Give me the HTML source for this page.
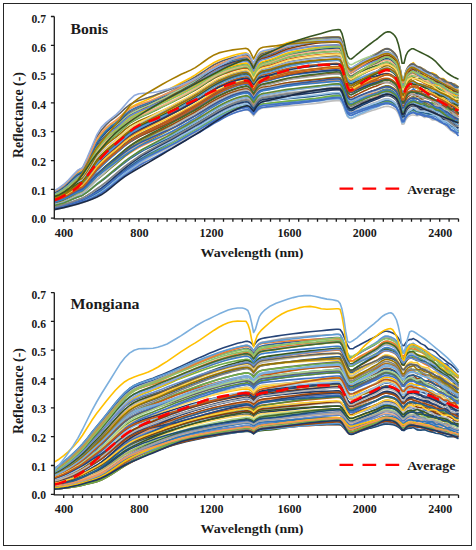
<!DOCTYPE html>
<html><head><meta charset="utf-8"><style>
html,body{margin:0;padding:0;background:#fff;}
body{width:476px;height:550px;overflow:hidden;position:relative;}
.frame{position:absolute;left:3px;top:3px;width:467px;height:541px;border:1px solid #262626;}
svg{position:absolute;left:0;top:0;}
.tk{font-family:"Liberation Serif",serif;font-weight:bold;font-size:11.5px;fill:#1a1a1a;}
.lb{font-family:"Liberation Serif",serif;font-weight:bold;font-size:13.5px;fill:#1a1a1a;}
.ti{font-family:"Liberation Serif",serif;font-weight:bold;font-size:14.5px;fill:#1a1a1a;}
.ax{fill:none;stroke:#1a1a1a;stroke-width:1.3;}
g.c path{fill:none;stroke-width:16;stroke-linejoin:round;}
g.c path.avg{stroke:#FF0000;stroke-width:25;stroke-dasharray:125,83;}
</style></head><body>
<div class="frame"></div>
<svg width="476" height="550" viewBox="0 0 476 550">
<defs><clipPath id="c1"><rect x="54" y="0" width="410" height="219"/></clipPath>
<clipPath id="c2"><rect x="54" y="276" width="410" height="219"/></clipPath></defs>
<g clip-path="url(#c1)"><g class="c" transform="scale(0.1)">
<path d="M543 2005l47-16 47-21 47-26 47-29 47-28 47-20 47-49 47-60 47-60 47-45 47-41 47-40 47-35 47-39 47-38 47-35 47-29 47-26 47-24 47-21 47-22 47-22 47-21 47-22 47-22 47-24 47-26 47-26 47-27 47-27 47-29 47-30 47-31 47-29 47-27 47-23 47-22 47-19 47-16 47-12 19-4 19-3 18 4 19 16 19 30 19 33 19-34 18-30 19-21 19-13 19-7 19-3 56-12 56-16 57-15 56-15 57-11 56-9 56-9 57-7 56-5 57-5 56-6 56-4 38-1 19 1 19 3 18 29 19 60 19 73 19 57 19 21 18 4 19-9 19-11 19-10 19-10 18-9 19-10 19-8 19-9 19-8 18-8 19-8 19-7 19-7 19-7 18-9 19-8 19-8 19-5 19-1 18 2 19 8 19 11 19 15 19 21 18 41 19 60 19 84 19-3 19-60 18-29 19-16 19-11 19 4 37 5 38 21 38 12 37 12 38 34 37-1 38 29 38 18 37 28 38 24 37 21 38 12" stroke="#4472C4"/>
<path d="M543 1932l47-24 47-32 47-41 47-47 47-44 47-27 47-81 47-99 47-100 47-65 47-52 47-43 47-34 47-40 47-44 47-37 47-25 47-20 47-18 47-17 47-20 47-21 47-20 47-21 47-21 47-22 47-23 47-24 47-24 47-26 47-30 47-31 47-31 47-28 47-24 47-18 47-17 47-16 47-12 47-10 19-3 19-2 18 6 19 18 19 33 19 36 19-35 18-30 19-22 19-12 19-7 19-3 56-15 56-21 57-23 56-19 57-13 56-9 56-9 57-7 56-5 57-4 56-2 56-2 38 0 19 1 19 4 18 30 19 63 19 77 19 61 19 22 18 5 19-9 19-12 19-10 19-10 18-10 19-10 19-9 19-8 19-9 18-8 19-8 19-7 19-6 19-7 18-9 19-8 19-7 19-5 19-1 18 3 19 8 19 13 19 16 19 23 18 43 19 63 19 90 19-3 19-62 18-30 19-16 19-9 19 6 37 34 38-9 38 21 37 24 38 9 37 23 38 19 38 39 37 2 38 13 37 10 38 16" stroke="#ED7D31"/>
<path d="M543 2068l47-10 47-12 47-15 47-17 47-17 47-16 47-26 47-31 47-33 47-31 47-36 47-39 47-39 47-40 47-37 47-35 47-33 47-32 47-28 47-28 47-26 47-26 47-25 47-25 47-27 47-27 47-28 47-29 47-28 47-28 47-28 47-30 47-30 47-30 47-28 47-26 47-23 47-21 47-18 47-14 19-4 19-4 18 3 19 13 19 25 19 28 19-31 18-26 19-18 19-11 19-6 19-2 56-8 56-9 57-8 56-9 57-6 56-6 56-6 57-6 56-6 57-7 56-8 56-6 38-2 19 0 19 3 18 24 19 51 19 62 19 48 19 18 18 3 19-8 19-10 19-8 19-9 18-9 19-8 19-8 19-8 19-7 18-8 19-7 19-7 19-6 19-7 18-8 19-8 19-7 19-5 19-2 18 2 19 6 19 9 19 13 19 18 18 35 19 52 19 73 19-3 19-52 18-26 19-15 19-9 19-8 37 6 38 17 38 12 37 5 38 30 37 4 38 12 38 38 37 7 38 36 37 38 38 14" stroke="#A5A5A5"/>
<path d="M543 1926l47-25 47-33 47-42 47-48 47-46 47-27 47-84 47-102 47-105 47-68 47-55 47-45 47-35 47-42 47-46 47-40 47-28 47-22 47-20 47-20 47-23 47-22 47-24 47-23 47-24 47-24 47-25 47-25 47-26 47-28 47-32 47-33 47-30 47-29 47-22 47-18 47-16 47-14 47-12 47-9 19-3 19-2 18 8 19 22 19 42 19 46 19-43 18-38 19-26 19-15 19-8 19-3 56-17 56-23 57-25 56-21 57-14 56-11 56-9 57-7 56-5 57-5 56-4 56-2 38-1 19 1 19 3 18 38 19 78 19 95 19 74 19 27 18 5 19-12 19-15 19-13 19-13 18-12 19-13 19-11 19-12 19-11 18-10 19-10 19-10 19-9 19-10 18-11 19-12 19-10 19-6 19-3 18 3 19 10 19 14 19 18 19 26 18 53 19 76 19 109 19-6 19-79 18-39 19-21 19-13 19-12 37 42 38 7 38 22 37 32 38-2 37 18 38 40 38-1 37 31 38 20 37 5 38 27" stroke="#FFC000"/>
<path d="M543 2085l47-8 47-10 47-13 47-14 47-15 47-15 47-21 47-25 47-28 47-30 47-36 47-40 47-41 47-41 47-38 47-37 47-34 47-35 47-30 47-28 47-26 47-25 47-25 47-25 47-26 47-28 47-26 47-26 47-25 47-26 47-25 47-27 47-27 47-27 47-26 47-24 47-22 47-19 47-16 47-11 19-4 19-3 18 4 19 12 19 24 19 26 19-27 18-24 19-17 19-10 19-5 19-2 56-5 56-5 57-5 56-5 57-4 56-6 56-5 57-6 56-6 57-8 56-9 56-7 38-3 19 0 19 2 18 23 19 46 19 58 19 45 19 16 18 3 19-8 19-9 19-9 19-8 18-8 19-8 19-8 19-7 19-7 18-7 19-7 19-6 19-6 19-6 18-8 19-7 19-7 19-4 19-2 18 1 19 6 19 9 19 12 19 17 18 33 19 48 19 68 19-3 19-48 18-25 19-14 19-10 19 6 37-11 38 16 38 12 37 7 38-4 37 22 38 38 38 8 37 25 38 26 37 30 38 37" stroke="#5B9BD5"/>
<path d="M543 2079l47-8 47-11 47-13 47-14 47-15 47-15 47-22 47-25 47-28 47-29 47-35 47-39 47-39 47-40 47-37 47-34 47-34 47-33 47-28 47-26 47-24 47-24 47-23 47-23 47-25 47-25 47-27 47-28 47-26 47-27 47-26 47-28 47-28 47-28 47-27 47-25 47-23 47-20 47-17 47-13 19-4 19-3 18 3 19 10 19 21 19 24 19-26 18-22 19-16 19-10 19-5 19-2 56-7 56-6 57-7 56-6 57-5 56-6 56-5 57-6 56-6 57-8 56-9 56-7 38-3 19 0 19 2 18 20 19 43 19 53 19 41 19 15 18 3 19-7 19-9 19-7 19-8 18-7 19-7 19-7 19-7 19-7 18-6 19-6 19-6 19-5 19-6 18-7 19-7 19-6 19-4 19-2 18 2 19 5 19 9 19 11 19 16 18 31 19 45 19 63 19-2 19-44 18-21 19-12 19-9 19-1 37 15 38-7 38 26 37-3 38 10 37 9 38 22 38 27 37 25 38 27 37 20 38 42" stroke="#70AD47"/>
<path d="M543 1933l47-24 47-32 47-41 47-46 47-44 47-27 47-81 47-98 47-99 47-65 47-52 47-42 47-34 47-40 47-44 47-37 47-25 47-21 47-19 47-18 47-21 47-21 47-21 47-21 47-22 47-23 47-23 47-24 47-25 47-27 47-30 47-31 47-32 47-28 47-24 47-19 47-18 47-16 47-14 47-11 19-4 19-3 18 6 19 20 19 37 19 40 19-40 18-35 19-25 19-14 19-9 19-4 56-18 56-24 57-26 56-23 57-15 56-13 56-12 57-10 56-8 57-6 56-4 56-4 38-2 19 1 19 3 18 34 19 72 19 90 19 70 19 25 18 6 19-10 19-13 19-11 19-12 18-10 19-11 19-10 19-9 19-10 18-9 19-8 19-8 19-7 19-8 18-10 19-9 19-8 19-5 19-2 18 4 19 10 19 14 19 19 19 25 18 49 19 72 19 101 19-4 19-71 18-35 19-18 19-11 19-4 37 23 38 20 38 38 37 25 38 5 37 17 38 22 38 13 37 24 38 27 37 17 38 12" stroke="#264478"/>
<path d="M543 2012l47-16 47-20 47-26 47-30 47-29 47-20 47-50 47-60 47-62 47-47 47-43 47-41 47-35 47-38 47-38 47-34 47-28 47-26 47-23 47-21 47-21 47-21 47-21 47-21 47-22 47-23 47-24 47-25 47-25 47-25 47-27 47-29 47-28 47-27 47-25 47-21 47-22 47-18 47-16 47-12 19-3 19-3 18 4 19 15 19 30 19 33 19-33 18-29 19-21 19-12 19-7 19-3 56-11 56-13 57-14 56-13 57-9 56-8 56-8 57-7 56-7 57-6 56-7 56-6 38-2 19 1 19 3 18 28 19 59 19 72 19 56 19 20 18 4 19-9 19-11 19-10 19-9 18-10 19-9 19-9 19-8 19-9 18-8 19-7 19-8 19-6 19-8 18-8 19-9 19-7 19-5 19-2 18 2 19 8 19 11 19 15 19 20 18 40 19 59 19 83 19-4 19-58 18-30 19-16 19-10 19-1 37 20 38 11 38 7 37 11 38 13 37 25 38 28 38 1 37 31 38 23 37 25 38 35" stroke="#9E480E"/>
<path d="M543 1978l47-20 47-25 47-31 47-36 47-34 47-23 47-61 47-74 47-74 47-51 47-44 47-39 47-34 47-37 47-39 47-35 47-26 47-23 47-21 47-19 47-21 47-20 47-20 47-21 47-21 47-22 47-24 47-26 47-25 47-26 47-28 47-30 47-29 47-27 47-24 47-20 47-18 47-16 47-14 47-9 19-3 19-2 18 6 19 17 19 33 19 37 19-35 18-31 19-21 19-12 19-7 19-2 56-11 56-13 57-15 56-12 57-8 56-7 56-5 57-5 56-5 57-5 56-8 56-7 38-3 19 0 19 3 18 29 19 61 19 76 19 59 19 21 18 3 19-10 19-12 19-11 19-11 18-11 19-11 19-10 19-9 19-10 18-9 19-9 19-8 19-8 19-9 18-10 19-9 19-9 19-6 19-3 18 2 19 7 19 12 19 15 19 21 18 42 19 63 19 88 19-5 19-64 18-32 19-18 19-11 19-8 37 21 38 21 38 1 37 15 38 30 37 10 38 15 38 22 37 17 38 20 37 24 38 28" stroke="#636363"/>
<path d="M543 1947l47-22 47-29 47-38 47-42 47-40 47-25 47-73 47-88 47-89 47-59 47-48 47-41 47-33 47-38 47-41 47-36 47-25 47-22 47-19 47-18 47-20 47-21 47-20 47-21 47-20 47-21 47-23 47-24 47-25 47-25 47-29 47-30 47-30 47-28 47-23 47-20 47-17 47-16 47-13 47-10 19-3 19-2 18 6 19 18 19 35 19 37 19-36 18-32 19-22 19-12 19-7 19-3 56-14 56-18 57-19 56-17 57-13 56-9 56-9 57-8 56-7 57-5 56-4 56-4 38-1 19 1 19 3 18 31 19 65 19 80 19 62 19 22 18 5 19-10 19-12 19-11 19-10 18-11 19-10 19-9 19-9 19-9 18-9 19-8 19-7 19-7 19-8 18-9 19-9 19-8 19-5 19-2 18 3 19 9 19 12 19 16 19 23 18 44 19 65 19 91 19-4 19-65 18-32 19-17 19-11 19 9 37 1 38 23 38 26 37 15 38 13 37 8 38 27 38 13 37 12 38 23 37 19 38 21" stroke="#C55A11"/>
<path d="M543 2083l47-9 47-10 47-13 47-15 47-15 47-16 47-22 47-26 47-28 47-31 47-36 47-40 47-42 47-40 47-39 47-36 47-35 47-35 47-30 47-27 47-26 47-25 47-25 47-26 47-26 47-28 47-26 47-27 47-27 47-26 47-26 47-28 47-29 47-28 47-26 47-25 47-23 47-19 47-17 47-12 19-4 19-3 18 3 19 12 19 23 19 27 19-28 18-24 19-18 19-10 19-5 19-3 56-6 56-7 57-7 56-6 57-6 56-5 56-5 57-5 56-6 57-7 56-8 56-7 38-2 19 1 19 2 18 22 19 47 19 59 19 45 19 16 18 3 19-7 19-10 19-8 19-8 18-8 19-7 19-8 19-7 19-7 18-7 19-6 19-6 19-6 19-6 18-7 19-7 19-6 19-5 19-2 18 2 19 6 19 9 19 13 19 17 18 33 19 48 19 68 19-2 19-48 18-24 19-13 19-9 19-9 37 19 38 9 38 8 37 6 38 18 37 9 38 20 38 22 37 21 38 32 37 28 38 19" stroke="#255E91"/>
<path d="M543 1965l47-21 47-27 47-36 47-40 47-38 47-24 47-69 47-84 47-85 47-58 47-49 47-43 47-36 47-40 47-44 47-38 47-28 47-25 47-22 47-21 47-22 47-23 47-23 47-23 47-23 47-25 47-24 47-24 47-26 47-26 47-29 47-31 47-31 47-29 47-24 47-21 47-18 47-17 47-14 47-10 19-4 19-2 18 5 19 16 19 31 19 35 19-34 18-30 19-21 19-12 19-7 19-3 56-15 56-20 57-21 56-18 57-13 56-10 56-9 57-8 56-6 57-5 56-5 56-3 38-1 19 1 19 3 18 29 19 61 19 74 19 58 19 22 18 4 19-8 19-11 19-10 19-10 18-9 19-9 19-8 19-8 19-8 18-7 19-7 19-7 19-6 19-6 18-8 19-8 19-7 19-4 19-1 18 4 19 8 19 13 19 16 19 22 18 42 19 61 19 86 19-2 19-59 18-29 19-14 19-9 19 16 37 10 38 0 38 25 37 25 38 11 37 13 38 31 38 9 37 26 38 20 37 20 38 12" stroke="#43682B"/>
<path d="M543 2094l47-8 47-9 47-10 47-12 47-13 47-14 47-18 47-19 47-23 47-27 47-34 47-40 47-41 47-40 47-37 47-36 47-35 47-35 47-30 47-28 47-26 47-25 47-24 47-23 47-24 47-26 47-26 47-27 47-26 47-25 47-25 47-27 47-27 47-28 47-26 47-25 47-22 47-20 47-16 47-12 19-4 19-3 18 3 19 11 19 22 19 24 19-26 18-22 19-16 19-9 19-5 19-2 56-5 56-4 57-5 56-5 57-4 56-5 56-5 57-5 56-6 57-8 56-10 56-7 38-3 19 0 19 2 18 21 19 43 19 54 19 41 19 15 18 3 19-7 19-9 19-8 19-7 18-8 19-7 19-7 19-7 19-7 18-6 19-6 19-6 19-6 19-6 18-6 19-7 19-6 19-4 19-2 18 1 19 5 19 8 19 11 19 15 18 31 19 45 19 63 19-2 19-45 18-23 19-13 19-9 19 0 37 8 38-8 38 25 37-7 38 32 37 0 38 22 38 17 37 33 38 35 37 26 38 10" stroke="#BFBFBF"/>
<path d="M543 2039l47-13 47-16 47-20 47-23 47-23 47-18 47-37 47-45 47-46 47-38 47-39 47-40 47-37 47-39 47-38 47-34 47-29 47-28 47-24 47-22 47-22 47-21 47-21 47-21 47-22 47-24 47-25 47-26 47-26 47-25 47-27 47-28 47-28 47-28 47-25 47-23 47-22 47-18 47-16 47-12 19-3 19-4 18 5 19 16 19 32 19 35 19-36 18-30 19-22 19-13 19-7 19-2 56-9 56-10 57-10 56-9 57-8 56-6 56-7 57-6 56-6 57-8 56-7 56-7 38-2 19 0 19 3 18 29 19 62 19 75 19 57 19 20 18 4 19-10 19-12 19-11 19-10 18-11 19-10 19-10 19-10 19-10 18-9 19-9 19-8 19-8 19-9 18-10 19-10 19-9 19-7 19-2 18 1 19 7 19 11 19 14 19 20 18 41 19 61 19 85 19-4 19-64 18-32 19-19 19-12 19-2 37 8 38 9 38 22 37 8 38 7 37 16 38 22 38 3 37 34 38 34 37 22 38 24" stroke="#F1975A"/>
<path d="M543 2070l47-10 47-12 47-15 47-17 47-17 47-16 47-26 47-31 47-33 47-32 47-37 47-40 47-39 47-40 47-38 47-36 47-33 47-33 47-29 47-25 47-25 47-25 47-23 47-24 47-26 47-27 47-28 47-28 47-28 47-27 47-28 47-30 47-29 47-30 47-27 47-26 47-23 47-21 47-18 47-13 19-4 19-4 18 4 19 13 19 28 19 30 19-32 18-28 19-21 19-11 19-7 19-3 56-9 56-10 57-11 56-7 57-4 56-4 56-3 57-4 56-3 57-5 56-6 56-4 38-1 19 1 19 4 18 26 19 54 19 67 19 51 19 19 18 3 19-7 19-10 19-9 19-9 18-8 19-9 19-8 19-7 19-8 18-7 19-7 19-7 19-6 19-6 18-8 19-8 19-7 19-5 19-1 18 2 19 7 19 10 19 14 19 18 18 36 19 53 19 74 19-4 19-55 18-28 19-17 19-11 19-7 37 7 38 20 38 10 37-13 38 28 37 23 38 15 38 12 37 14 38 34 37 18 38 35" stroke="#B7B7B7"/>
<path d="M543 1989l47-18 47-24 47-31 47-34 47-34 47-22 47-59 47-72 47-74 47-53 47-47 47-43 47-38 47-41 47-44 47-38 47-30 47-28 47-24 47-22 47-25 47-23 47-24 47-24 47-25 47-26 47-25 47-25 47-26 47-27 47-30 47-30 47-31 47-28 47-25 47-20 47-19 47-17 47-14 47-11 19-3 19-3 18 6 19 16 19 32 19 36 19-35 18-30 19-22 19-12 19-7 19-3 56-13 56-17 57-18 56-16 57-11 56-9 56-8 57-7 56-6 57-5 56-5 56-4 38-2 19 1 19 3 18 30 19 61 19 76 19 59 19 21 18 5 19-9 19-12 19-10 19-10 18-10 19-9 19-9 19-9 19-8 18-9 19-7 19-7 19-7 19-7 18-9 19-9 19-7 19-5 19-2 18 4 19 8 19 12 19 15 19 22 18 42 19 62 19 88 19-3 19-62 18-30 19-16 19-10 19 3 37 17 38 5 38 26 37 15 38 13 37 22 38 17 38 34 37 2 38 25 37 18 38 21" stroke="#FFCD33"/>
<path d="M543 2084l47-8 47-9 47-12 47-13 47-14 47-14 47-19 47-22 47-24 47-27 47-33 47-38 47-40 47-40 47-37 47-35 47-35 47-34 47-30 47-27 47-26 47-25 47-24 47-24 47-26 47-27 47-27 47-27 47-27 47-26 47-27 47-28 47-28 47-28 47-28 47-25 47-23 47-20 47-16 47-11 19-4 19-3 18 3 19 13 19 24 19 27 19-28 18-25 19-17 19-10 19-5 19-2 56-5 56-5 57-5 56-4 57-4 56-4 56-4 57-4 56-5 57-7 56-8 56-7 38-2 19 1 19 2 18 23 19 46 19 57 19 44 19 16 18 2 19-8 19-10 19-9 19-9 18-9 19-8 19-8 19-8 19-8 18-8 19-7 19-7 19-7 19-7 18-8 19-8 19-7 19-6 19-2 18 1 19 5 19 9 19 11 19 17 18 33 19 48 19 68 19-3 19-50 18-25 19-14 19-10 19-5 37 14 38 3 38 8 37 11 38-2 37 2 38 35 38 20 37 30 38 30 37 10 38 49" stroke="#7CAFDD"/>
<path d="M543 1963l47-21 47-28 47-35 47-40 47-39 47-24 47-70 47-84 47-86 47-58 47-49 47-43 47-36 47-40 47-43 47-38 47-28 47-25 47-21 47-21 47-23 47-22 47-23 47-23 47-23 47-24 47-25 47-25 47-26 47-27 47-29 47-31 47-31 47-28 47-25 47-19 47-19 47-16 47-13 47-11 19-3 19-2 18 7 19 20 19 39 19 42 19-41 18-36 19-25 19-14 19-8 19-3 56-15 56-19 57-21 56-18 57-12 56-9 56-9 57-8 56-7 57-5 56-5 56-4 38-1 19 1 19 3 18 35 19 74 19 90 19 69 19 24 18 5 19-11 19-14 19-13 19-12 18-12 19-12 19-11 19-11 19-10 18-11 19-10 19-9 19-9 19-9 18-11 19-11 19-10 19-7 19-3 18 3 19 9 19 13 19 17 19 24 18 49 19 73 19 101 19-5 19-75 18-37 19-20 19-14 19 2 37 2 38 20 38 31 37 20 38-4 37 33 38 20 38 27 37 18 38 14 37 22 38 32" stroke="#8CC168"/>
<path d="M543 1990l47-18 47-24 47-30 47-35 47-33 47-22 47-58 47-71 47-72 47-52 47-45 47-42 47-37 47-39 47-42 47-37 47-30 47-26 47-24 47-23 47-25 47-24 47-24 47-25 47-25 47-26 47-26 47-26 47-27 47-28 47-30 47-31 47-32 47-29 47-27 47-22 47-20 47-18 47-16 47-11 19-4 19-3 18 5 19 16 19 33 19 35 19-35 18-31 19-22 19-12 19-7 19-3 56-13 56-17 57-18 56-16 57-10 56-9 56-8 57-6 56-6 57-5 56-4 56-3 38-1 19 1 19 3 18 30 19 63 19 78 19 60 19 22 18 4 19-9 19-12 19-10 19-10 18-10 19-9 19-9 19-9 19-9 18-8 19-9 19-7 19-7 19-8 18-9 19-9 19-8 19-6 19-2 18 3 19 8 19 12 19 15 19 22 18 43 19 63 19 88 19-3 19-63 18-32 19-16 19-11 19-3 37 14 38 20 38 13 37 14 38 31 37 14 38 19 38 1 37 30 38 20 37 23 38 27" stroke="#335AA1"/>
<path d="M543 1997l47-18 47-22 47-29 47-32 47-31 47-22 47-55 47-66 47-68 47-49 47-44 47-41 47-36 47-40 47-40 47-37 47-29 47-26 47-24 47-22 47-25 47-24 47-24 47-24 47-25 47-26 47-26 47-26 47-27 47-28 47-30 47-31 47-31 47-30 47-26 47-22 47-21 47-19 47-15 47-12 19-4 19-3 18 4 19 15 19 30 19 33 19-34 18-29 19-21 19-12 19-6 19-3 56-12 56-16 57-16 56-15 57-10 56-7 56-8 57-6 56-6 57-4 56-5 56-4 38-1 19 1 19 3 18 29 19 58 19 72 19 56 19 21 18 4 19-8 19-11 19-10 19-9 18-9 19-9 19-8 19-8 19-8 18-7 19-7 19-7 19-6 19-7 18-8 19-8 19-7 19-5 19-1 18 3 19 7 19 12 19 15 19 21 18 40 19 59 19 83 19-3 19-58 18-28 19-15 19-10 19-13 37 10 38 33 38 12 37 11 38 15 37 28 38 11 38 31 37 36 38 12 37 12 38 19" stroke="#BE5F1B"/>
<path d="M543 1959l47-23 47-30 47-39 47-44 47-43 47-28 47-78 47-95 47-97 47-67 47-56 47-49 47-39 47-46 47-49 47-43 47-32 47-27 47-22 47-22 47-24 47-24 47-24 47-24 47-25 47-25 47-22 47-23 47-23 47-25 47-29 47-30 47-30 47-27 47-23 47-17 47-16 47-14 47-11 47-9 19-2 19-2 18 8 19 20 19 40 19 43 19-42 18-36 19-26 19-15 19-9 19-4 56-20 56-25 57-26 56-24 57-17 56-14 56-13 57-11 56-9 57-7 56-6 56-4 38-3 19 1 19 3 18 35 19 75 19 92 19 70 19 26 18 4 19-11 19-15 19-13 19-13 18-13 19-12 19-12 19-11 19-11 18-10 19-9 19-9 19-9 19-9 18-11 19-10 19-10 19-6 19-2 18 4 19 9 19 14 19 18 19 26 18 51 19 75 19 105 19-5 19-76 18-37 19-20 19-12 19-7 37 27 38 17 38 17 37 26 38 15 37 31 38 12 38 31 37 12 38 20 37-1 38 30" stroke="#848484"/>
<path d="M543 1966l47-21 47-27 47-34 47-39 47-37 47-24 47-67 47-81 47-82 47-55 47-47 47-41 47-34 47-39 47-41 47-36 47-27 47-24 47-20 47-20 47-21 47-21 47-21 47-22 47-22 47-23 47-24 47-25 47-26 47-26 47-30 47-31 47-30 47-28 47-25 47-20 47-19 47-17 47-14 47-10 19-4 19-2 18 8 19 22 19 43 19 47 19-45 18-39 19-28 19-16 19-8 19-3 56-14 56-18 57-19 56-17 57-11 56-9 56-9 57-7 56-6 57-6 56-6 56-5 38-2 19 1 19 3 18 39 19 81 19 98 19 75 19 26 18 5 19-13 19-16 19-14 19-14 18-14 19-14 19-13 19-13 19-12 18-13 19-11 19-12 19-10 19-12 18-13 19-14 19-12 19-9 19-4 18 2 19 9 19 13 19 17 19 26 18 53 19 78 19 110 19-7 19-84 18-43 19-25 19-16 19-12 37 20 38 15 38 10 37 26 38 20 37 15 38 27 38 14 37 39 38-6 37 39 38 14" stroke="#997300"/>
<path d="M543 2019l47-16 47-20 47-25 47-29 47-28 47-21 47-49 47-58 47-61 47-46 47-45 47-42 47-39 47-41 47-42 47-38 47-31 47-30 47-26 47-24 47-25 47-24 47-24 47-24 47-26 47-26 47-25 47-26 47-26 47-26 47-29 47-30 47-30 47-28 47-26 47-21 47-20 47-17 47-14 47-11 19-3 19-3 18 4 19 14 19 25 19 29 19-29 18-25 19-17 19-10 19-6 19-3 56-10 56-14 57-13 56-13 57-8 56-7 56-7 57-6 56-5 57-5 56-5 56-4 38-2 19 0 19 2 18 24 19 49 19 61 19 48 19 17 18 4 19-8 19-9 19-9 19-8 18-8 19-7 19-8 19-7 19-7 18-6 19-6 19-6 19-5 19-6 18-7 19-6 19-6 19-4 19-1 18 3 19 7 19 10 19 14 19 19 18 35 19 52 19 73 19-2 19-49 18-24 19-12 19-8 19-17 37 33 38 13 38 9 37 14 38 26 37 21 38 10 38 18 37 25 38 24 37 23 38 20" stroke="#3A7BC8"/>
<path d="M543 2043l47-13 47-16 47-20 47-23 47-23 47-18 47-38 47-45 47-47 47-39 47-40 47-41 47-39 47-40 47-40 47-36 47-32 47-31 47-27 47-25 47-24 47-25 47-23 47-24 47-25 47-26 47-26 47-26 47-27 47-26 47-27 47-29 47-29 47-28 47-26 47-23 47-22 47-19 47-15 47-12 19-3 19-3 18 4 19 15 19 29 19 32 19-32 18-29 19-20 19-12 19-6 19-3 56-9 56-11 57-11 56-10 57-8 56-6 56-6 57-6 56-6 57-6 56-6 56-6 38-1 19 1 19 2 18 28 19 56 19 70 19 53 19 20 18 4 19-9 19-11 19-10 19-9 18-9 19-9 19-9 19-9 19-8 18-8 19-7 19-7 19-7 19-7 18-9 19-8 19-8 19-5 19-2 18 2 19 7 19 11 19 14 19 20 18 38 19 57 19 80 19-4 19-57 18-29 19-16 19-11 19-6 37 20 38 3 38 7 37 13 38 25 37 18 38 11 38 29 37-3 38 48 37 26 38 16" stroke="#5A8A39"/>
<path d="M543 1977l47-20 47-27 47-32 47-37 47-36 47-23 47-64 47-77 47-78 47-55 47-47 47-41 47-36 47-39 47-42 47-37 47-29 47-24 47-22 47-21 47-23 47-22 47-22 47-22 47-23 47-24 47-25 47-26 47-26 47-26 47-30 47-31 47-31 47-29 47-25 47-21 47-19 47-18 47-14 47-11 19-4 19-2 18 5 19 16 19 31 19 34 19-34 18-30 19-21 19-12 19-7 19-4 56-14 56-19 57-19 56-17 57-12 56-8 56-8 57-7 56-6 57-5 56-4 56-3 38-1 19 1 19 3 18 30 19 60 19 75 19 58 19 22 18 4 19-8 19-12 19-10 19-9 18-9 19-9 19-9 19-8 19-8 18-8 19-7 19-7 19-6 19-7 18-8 19-8 19-7 19-4 19-1 18 3 19 8 19 13 19 15 19 22 18 42 19 61 19 86 19-3 19-60 18-29 19-15 19-10 19 2 37 23 38 1 38 18 37 19 38 30 37 7 38 18 38 28 37 27 38-8 37 30 38 29" stroke="#8FAADC"/>
<path d="M543 1954l47-22 47-28 47-37 47-42 47-39 47-25 47-72 47-88 47-88 47-59 47-49 47-42 47-34 47-40 47-42 47-37 47-27 47-23 47-21 47-20 47-21 47-22 47-22 47-22 47-23 47-23 47-24 47-25 47-26 47-26 47-30 47-31 47-31 47-28 47-25 47-20 47-18 47-17 47-13 47-11 19-3 19-3 18 6 19 17 19 32 19 35 19-35 18-30 19-22 19-12 19-7 19-4 56-16 56-20 57-22 56-19 57-13 56-11 56-9 57-9 56-7 57-5 56-4 56-4 38-1 19 1 19 2 18 30 19 63 19 77 19 60 19 22 18 4 19-9 19-12 19-10 19-10 18-10 19-9 19-9 19-9 19-8 18-8 19-8 19-7 19-6 19-7 18-9 19-8 19-7 19-5 19-1 18 3 19 9 19 12 19 16 19 23 18 43 19 63 19 89 19-2 19-62 18-30 19-16 19-9 19-6 37 23 38 13 38 32 37 8 38 26 37 14 38 7 38 30 37 35 38 13 37 18 38 3" stroke="#F4B183"/>
<path d="M543 2001l47-18 47-23 47-28 47-33 47-32 47-23 47-56 47-68 47-69 47-52 47-46 47-43 47-38 47-42 47-41 47-36 47-29 47-26 47-23 47-22 47-23 47-22 47-23 47-22 47-24 47-24 47-24 47-26 47-25 47-26 47-28 47-30 47-30 47-28 47-25 47-21 47-20 47-17 47-15 47-11 19-4 19-3 18 4 19 11 19 22 19 26 19-26 18-23 19-16 19-10 19-6 19-3 56-12 56-16 57-17 56-15 57-11 56-8 56-9 57-7 56-6 57-6 56-6 56-5 38-1 19 0 19 2 18 22 19 45 19 57 19 44 19 17 18 4 19-6 19-8 19-7 19-7 18-6 19-6 19-6 19-5 19-5 18-5 19-4 19-5 19-3 19-4 18-5 19-5 19-4 19-2 19 0 18 4 19 8 19 10 19 14 19 19 18 33 19 49 19 67 19 1 19-43 18-20 19-9 19-5 19 2 37 12 38 30 38 5 37 4 38 22 37 27 38 8 38 27 37 16 38 38 37 17 38 18" stroke="#1F3864"/>
<path d="M543 1985l47-19 47-26 47-32 47-36 47-35 47-24 47-63 47-77 47-78 47-55 47-49 47-44 47-38 47-42 47-44 47-39 47-30 47-27 47-25 47-23 47-24 47-25 47-24 47-25 47-25 47-26 47-24 47-25 47-26 47-26 47-30 47-31 47-30 47-29 47-25 47-20 47-19 47-17 47-14 47-10 19-4 19-2 18 5 19 16 19 30 19 34 19-34 18-29 19-21 19-12 19-7 19-4 56-14 56-20 57-20 56-18 57-12 56-11 56-9 57-8 56-7 57-6 56-5 56-4 38-1 19 0 19 3 18 29 19 60 19 74 19 57 19 21 18 4 19-8 19-12 19-10 19-9 18-10 19-9 19-9 19-8 19-8 18-7 19-8 19-6 19-7 19-6 18-8 19-8 19-7 19-5 19-1 18 3 19 9 19 12 19 15 19 22 18 42 19 61 19 86 19-3 19-59 18-29 19-15 19-9 19 9 37 0 38 18 38 21 37 15 38 11 37 31 38 28 38 16 37 9 38 23 37 33 38 1" stroke="#FFD966"/>
<path d="M543 2073l47-9 47-12 47-14 47-17 47-16 47-16 47-25 47-29 47-31 47-31 47-35 47-39 47-39 47-39 47-37 47-35 47-33 47-33 47-28 47-26 47-24 47-24 47-23 47-24 47-24 47-26 47-26 47-27 47-26 47-25 47-26 47-28 47-29 47-29 47-27 47-25 47-23 47-20 47-17 47-13 19-4 19-4 18 4 19 12 19 26 19 27 19-29 18-26 19-19 19-10 19-6 19-3 56-7 56-8 57-8 56-7 57-7 56-6 56-6 57-7 56-6 57-7 56-8 56-7 38-2 19 0 19 3 18 24 19 50 19 62 19 48 19 17 18 3 19-7 19-10 19-9 19-9 18-9 19-8 19-8 19-8 19-7 18-8 19-7 19-6 19-7 19-6 18-8 19-8 19-7 19-5 19-2 18 2 19 6 19 10 19 12 19 18 18 35 19 51 19 72 19-3 19-51 18-26 19-14 19-10 19-18 37 28 38 8 38 1 37 7 38 15 37 14 38 28 38 23 37 18 38 27 37 21 38 31" stroke="#9DC3E6"/>
<path d="M543 1945l47-24 47-31 47-39 47-45 47-42 47-27 47-78 47-95 47-96 47-64 47-53 47-44 47-35 47-41 47-45 47-39 47-28 47-23 47-20 47-21 47-22 47-23 47-23 47-23 47-26 47-26 47-25 47-26 47-26 47-28 47-31 47-34 47-32 47-31 47-25 47-20 47-19 47-17 47-14 47-11 19-4 19-3 18 5 19 16 19 30 19 34 19-34 18-30 19-21 19-12 19-7 19-5 56-19 56-24 57-26 56-22 57-14 56-11 56-10 57-8 56-6 57-4 56-3 56-1 38-1 19 1 19 4 18 29 19 60 19 75 19 59 19 22 18 5 19-9 19-11 19-9 19-9 18-9 19-8 19-8 19-7 19-7 18-7 19-6 19-6 19-6 19-5 18-7 19-8 19-5 19-4 19 0 18 4 19 10 19 13 19 16 19 23 18 42 19 62 19 87 19-1 19-58 18-28 19-13 19-8 19-8 37 34 38 22 38 8 37 32 38 23 37 14 38 15 38 17 37 17 38 15 37 25 38 15" stroke="#A9D18E"/>
<path d="M543 2080l47-9 47-12 47-13 47-16 47-16 47-16 47-24 47-28 47-31 47-32 47-37 47-41 47-41 47-41 47-39 47-37 47-35 47-34 47-31 47-27 47-26 47-26 47-25 47-25 47-26 47-27 47-26 47-27 47-27 47-26 47-27 47-29 47-28 47-28 47-27 47-25 47-22 47-20 47-17 47-12 19-4 19-3 18 3 19 13 19 27 19 29 19-31 18-26 19-19 19-11 19-6 19-2 56-8 56-8 57-9 56-8 57-8 56-7 56-7 57-7 56-7 57-8 56-10 56-8 38-3 19 0 19 2 18 25 19 52 19 64 19 49 19 17 18 3 19-8 19-11 19-10 19-9 18-9 19-10 19-8 19-9 19-8 18-8 19-8 19-7 19-7 19-8 18-8 19-9 19-7 19-6 19-2 18 1 19 6 19 10 19 13 19 19 18 36 19 54 19 75 19-3 19-54 18-27 19-15 19-10 19-4 37 9 38 29 38-3 37 9 38 16 37 16 38 19 38 40 37 6 38 29 37 24 38 33" stroke="#203864"/>
<path d="M543 1952l47-23 47-30 47-39 47-44 47-43 47-27 47-77 47-94 47-96 47-63 47-51 47-44 47-35 47-41 47-44 47-39 47-27 47-23 47-21 47-20 47-22 47-23 47-22 47-23 47-24 47-24 47-22 47-24 47-23 47-26 47-29 47-30 47-30 47-30 47-26 47-21 47-19 47-17 47-15 47-11 19-4 19-3 18 7 19 19 19 38 19 41 19-41 18-35 19-26 19-14 19-9 19-4 56-18 56-23 57-25 56-23 57-15 56-13 56-11 57-10 56-8 57-6 56-3 56-1 38 0 19 1 19 4 18 36 19 74 19 90 19 70 19 25 18 6 19-11 19-13 19-12 19-11 18-12 19-10 19-11 19-10 19-9 18-10 19-9 19-8 19-7 19-9 18-10 19-10 19-8 19-6 19-2 18 4 19 9 19 14 19 18 19 25 18 50 19 72 19 102 19-5 19-72 18-36 19-19 19-11 19-8 37 31 38 20 38 8 37 26 38 18 37 19 38 28 38 15 37 10 38 28 37 20 38 15" stroke="#843C0C"/>
<path d="M543 2083l47-8 47-9 47-11 47-13 47-13 47-13 47-17 47-20 47-22 47-25 47-32 47-36 47-38 47-37 47-34 47-33 47-32 47-32 47-28 47-24 47-25 47-25 47-24 47-24 47-25 47-27 47-27 47-28 47-28 47-27 47-26 47-29 47-28 47-29 47-27 47-27 47-24 47-21 47-17 47-14 19-4 19-4 18 2 19 8 19 18 19 20 19-23 18-20 19-14 19-9 19-5 19-2 56-7 56-7 57-7 56-6 57-6 56-7 56-6 57-7 56-8 57-9 56-11 56-9 38-3 19 0 19 1 18 17 19 38 19 47 19 36 19 14 18 2 19-7 19-8 19-7 19-7 18-6 19-7 19-6 19-6 19-6 18-5 19-6 19-5 19-4 19-5 18-5 19-5 19-4 19-3 19-1 18 3 19 6 19 8 19 12 19 15 18 29 19 41 19 58 19 0 19-38 18-18 19-10 19-6 19-5 37 11 38 13 38 14 37-7 38 26 37 13 38 12 38 29 37 17 38 44 37 16 38 47" stroke="#4472C4"/>
<path d="M543 1932l47-25 47-32 47-41 47-48 47-45 47-27 47-83 47-100 47-102 47-66 47-54 47-44 47-34 47-40 47-44 47-38 47-25 47-21 47-19 47-19 47-21 47-21 47-21 47-22 47-22 47-23 47-23 47-24 47-25 47-26 47-30 47-32 47-31 47-29 47-23 47-19 47-17 47-15 47-13 47-10 19-3 19-2 18 6 19 20 19 36 19 40 19-38 18-34 19-23 19-14 19-7 19-4 56-17 56-22 57-24 56-21 57-14 56-10 56-10 57-8 56-6 57-3 56-3 56-2 38-1 19 1 19 4 18 33 19 68 19 85 19 66 19 23 18 5 19-10 19-14 19-12 19-11 18-11 19-11 19-11 19-9 19-10 18-9 19-9 19-9 19-7 19-9 18-10 19-10 19-8 19-6 19-2 18 3 19 9 19 13 19 17 19 24 18 47 19 70 19 97 19-4 19-69 18-34 19-19 19-11 19 6 37 16 38 14 38 11 37 24 38 36 37 8 38 19 38 22 37 8 38 11 37 32 38 7" stroke="#2E75B6"/>
<path d="M543 1938l47-24 47-31 47-40 47-45 47-43 47-25 47-78 47-94 47-94 47-62 47-49 47-41 47-33 47-38 47-42 47-36 47-25 47-20 47-18 47-19 47-20 47-20 47-20 47-20 47-22 47-21 47-24 47-24 47-25 47-26 47-29 47-31 47-31 47-28 47-23 47-19 47-18 47-16 47-13 47-9 19-3 19-3 18 7 19 19 19 37 19 40 19-38 18-34 19-24 19-13 19-7 19-4 56-14 56-20 57-21 56-19 57-12 56-11 56-10 57-9 56-7 57-6 56-5 56-4 38-1 19 0 19 3 18 33 19 70 19 85 19 66 19 23 18 5 19-10 19-14 19-12 19-11 18-12 19-10 19-11 19-10 19-10 18-9 19-9 19-9 19-8 19-9 18-10 19-10 19-8 19-7 19-2 18 3 19 9 19 13 19 17 19 24 18 47 19 69 19 97 19-4 19-70 18-35 19-18 19-11 19 0 37 21 38 17 38 26 37 3 38 35 37 13 38 7 38 23 37 28 38 20 37 24 38 19" stroke="#1F4E79"/>
<path d="M543 1979l47-18 47-25 47-31 47-35 47-33 47-22 47-61 47-74 47-74 47-53 47-45 47-41 47-36 47-39 47-41 47-37 47-28 47-25 47-22 47-21 47-22 47-22 47-22 47-22 47-23 47-24 47-25 47-26 47-26 47-27 47-29 47-31 47-30 47-29 47-25 47-21 47-19 47-18 47-14 47-11 19-3 19-3 18 5 19 16 19 32 19 35 19-35 18-30 19-21 19-12 19-7 19-4 56-13 56-17 57-18 56-16 57-11 56-9 56-8 57-8 56-6 57-6 56-5 56-4 38-2 19 1 19 3 18 30 19 61 19 75 19 58 19 22 18 4 19-9 19-12 19-10 19-10 18-10 19-9 19-9 19-9 19-8 18-8 19-8 19-7 19-7 19-7 18-9 19-9 19-7 19-5 19-2 18 3 19 8 19 12 19 16 19 21 18 42 19 62 19 87 19-3 19-61 18-30 19-16 19-10 19 11 37-1 38 15 38 21 37 9 38 24 37 22 38 24 38 7 37 21 38 18 37 37 38 19" stroke="#375623"/>
<path d="M543 2074l47-9 47-11 47-13 47-14 47-15 47-15 47-21 47-26 47-27 47-27 47-34 47-37 47-38 47-38 47-36 47-33 47-32 47-32 47-28 47-24 47-24 47-23 47-22 47-22 47-24 47-24 47-27 47-28 47-27 47-26 47-26 47-28 47-28 47-28 47-27 47-25 47-23 47-20 47-17 47-13 19-3 19-4 18 3 19 10 19 21 19 24 19-26 18-22 19-16 19-9 19-5 19-2 56-6 56-6 57-6 56-5 57-5 56-5 56-5 57-6 56-6 57-7 56-9 56-8 38-2 19 0 19 2 18 20 19 42 19 53 19 40 19 15 18 3 19-7 19-9 19-7 19-8 18-7 19-7 19-7 19-6 19-7 18-6 19-6 19-5 19-5 19-6 18-6 19-7 19-5 19-4 19-2 18 2 19 6 19 8 19 12 19 16 18 30 19 45 19 62 19-1 19-43 18-22 19-11 19-8 19-10 37 27 38-13 38 17 37 18 38-1 37 20 38 27 38 20 37 16 38 41 37 26 38 11" stroke="#4472C4"/>
<path d="M543 2028l47-14 47-18 47-22 47-24 47-25 47-18 47-41 47-49 47-50 47-39 47-39 47-39 47-37 47-38 47-38 47-34 47-30 47-28 47-25 47-23 47-22 47-22 47-22 47-22 47-23 47-24 47-26 47-27 47-27 47-26 47-28 47-29 47-29 47-28 47-26 47-24 47-21 47-19 47-16 47-12 19-3 19-3 18 3 19 12 19 24 19 26 19-27 18-25 19-17 19-10 19-6 19-3 56-9 56-12 57-11 56-11 57-8 56-7 56-6 57-4 56-4 57-5 56-5 56-4 38 0 19 1 19 3 18 23 19 48 19 59 19 46 19 17 18 4 19-6 19-9 19-7 19-8 18-7 19-6 19-7 19-6 19-6 18-5 19-6 19-5 19-4 19-5 18-6 19-6 19-5 19-3 19-1 18 4 19 7 19 10 19 13 19 19 18 34 19 49 19 68 19-1 19-46 18-21 19-12 19-7 19 0 37 7 38 0 38 15 37 15 38 18 37 25 38 12 38 28 37 13 38 16 37 26 38 28" stroke="#ED7D31"/>
<path d="M543 2030l47-14 47-18 47-22 47-26 47-24 47-19 47-42 47-51 47-51 47-42 47-40 47-41 47-37 47-40 47-39 47-36 47-31 47-30 47-25 47-24 47-24 47-23 47-23 47-23 47-24 47-25 47-25 47-28 47-27 47-28 47-29 47-30 47-31 47-29 47-27 47-24 47-22 47-20 47-17 47-12 19-4 19-4 18 2 19 9 19 18 19 21 19-23 18-20 19-15 19-9 19-6 19-3 56-12 56-14 57-15 56-13 57-10 56-8 56-7 57-7 56-6 57-7 56-6 56-6 38-2 19 1 19 2 18 18 19 40 19 49 19 38 19 15 18 3 19-5 19-8 19-6 19-6 18-5 19-6 19-5 19-4 19-5 18-4 19-4 19-4 19-3 19-4 18-4 19-4 19-4 19-2 19 1 18 3 19 7 19 10 19 12 19 17 18 30 19 43 19 60 19 1 19-38 18-16 19-8 19-4 19 11 37-5 38 27 38 2 37 12 38 23 37 12 38 27 38 26 37 18 38 23 37 25 38 27" stroke="#A5A5A5"/>
<path d="M543 1945l47-23 47-30 47-39 47-43 47-42 47-25 47-76 47-92 47-92 47-61 47-50 47-42 47-34 47-39 47-43 47-37 47-26 47-22 47-19 47-19 47-21 47-22 47-21 47-22 47-23 47-23 47-24 47-24 47-26 47-26 47-30 47-31 47-31 47-29 47-24 47-20 47-18 47-16 47-14 47-10 19-3 19-3 18 8 19 21 19 40 19 43 19-42 18-37 19-26 19-14 19-8 19-4 56-16 56-21 57-23 56-20 57-15 56-11 56-10 57-9 56-8 57-5 56-5 56-4 38-1 19 1 19 3 18 37 19 76 19 93 19 72 19 26 18 4 19-11 19-15 19-13 19-13 18-13 19-12 19-12 19-11 19-11 18-11 19-10 19-10 19-9 19-10 18-12 19-12 19-10 19-7 19-3 18 3 19 10 19 14 19 18 19 26 18 51 19 76 19 105 19-5 19-77 18-38 19-21 19-13 19 1 37 22 38 9 38 13 37 28 38 32 37 21 38 10 38 31 37 7 38 13 37 46 38 2" stroke="#FFC000"/>
<path d="M543 1999l47-17 47-23 47-30 47-33 47-32 47-23 47-57 47-68 47-71 47-52 47-47 47-43 47-38 47-41 47-43 47-38 47-31 47-27 47-25 47-23 47-24 47-24 47-24 47-24 47-25 47-25 47-25 47-26 47-25 47-27 47-29 47-31 47-30 47-29 47-25 47-21 47-20 47-18 47-14 47-12 19-3 19-3 18 4 19 13 19 27 19 30 19-30 18-27 19-18 19-11 19-7 19-3 56-14 56-17 57-18 56-16 57-12 56-9 56-9 57-8 56-7 57-6 56-5 56-5 38-1 19 0 19 3 18 25 19 53 19 66 19 51 19 18 18 4 19-8 19-10 19-9 19-9 18-8 19-8 19-8 19-7 19-7 18-7 19-7 19-6 19-5 19-6 18-7 19-7 19-6 19-4 19-1 18 3 19 7 19 11 19 15 19 20 18 38 19 55 19 78 19-2 19-53 18-25 19-13 19-8 19 2 37 16 38 9 38 7 37 23 38 34 37 5 38 20 38 13 37 26 38 34 37 14 38 18" stroke="#5B9BD5"/>
<path d="M543 2032l47-14 47-17 47-22 47-25 47-25 47-20 47-41 47-51 47-52 47-42 47-41 47-41 47-39 47-40 47-40 47-37 47-32 47-30 47-26 47-24 47-25 47-24 47-23 47-24 47-25 47-26 47-26 47-26 47-26 47-25 47-28 47-29 47-29 47-27 47-26 47-22 47-21 47-18 47-15 47-11 19-3 19-3 18 5 19 16 19 31 19 34 19-34 18-30 19-21 19-12 19-6 19-3 56-9 56-12 57-12 56-10 57-8 56-7 56-7 57-6 56-6 57-7 56-6 56-6 38-2 19 1 19 3 18 29 19 59 19 74 19 56 19 20 18 4 19-9 19-12 19-10 19-10 18-10 19-10 19-9 19-9 19-9 18-9 19-8 19-8 19-7 19-8 18-9 19-9 19-8 19-6 19-2 18 2 19 7 19 11 19 14 19 21 18 40 19 60 19 84 19-4 19-61 18-31 19-17 19-11 19-5 37 15 38 5 38 22 37 16 38 3 37 23 38 25 38 27 37-15 38 50 37 24 38 39" stroke="#70AD47"/>
<path d="M543 2000l47-17 47-21 47-28 47-31 47-29 47-21 47-52 47-63 47-63 47-46 47-43 47-39 47-36 47-38 47-39 47-35 47-28 47-26 47-23 47-21 47-22 47-21 47-22 47-21 47-23 47-23 47-26 47-26 47-26 47-27 47-28 47-31 47-30 47-28 47-26 47-23 47-20 47-19 47-15 47-12 19-3 19-3 18 4 19 13 19 28 19 30 19-31 18-27 19-19 19-11 19-7 19-3 56-12 56-14 57-14 56-12 57-9 56-7 56-7 57-6 56-5 57-5 56-6 56-4 38-1 19 1 19 3 18 26 19 53 19 66 19 51 19 19 18 4 19-7 19-10 19-9 19-8 18-8 19-8 19-8 19-7 19-7 18-6 19-7 19-6 19-5 19-6 18-7 19-7 19-6 19-4 19-1 18 2 19 7 19 11 19 14 19 19 18 37 19 54 19 76 19-2 19-53 18-26 19-14 19-8 19 4 37 17 38 2 38 9 37 19 38 18 37 19 38 10 38 14 37 34 38 27 37-1 38 54" stroke="#264478"/>
<path d="M543 2027l47-14 47-19 47-23 47-26 47-26 47-20 47-44 47-53 47-54 47-43 47-43 47-41 47-38 47-40 47-41 47-37 47-31 47-29 47-24 47-22 47-23 47-22 47-22 47-23 47-23 47-24 47-25 47-26 47-25 47-26 47-27 47-29 47-29 47-27 47-25 47-23 47-20 47-18 47-15 47-11 19-3 19-3 18 4 19 14 19 28 19 31 19-31 18-27 19-19 19-11 19-6 19-2 56-9 56-12 57-11 56-10 57-8 56-6 56-6 57-6 56-5 57-6 56-6 56-5 38-1 19 1 19 2 18 26 19 54 19 65 19 51 19 19 18 4 19-8 19-10 19-9 19-9 18-8 19-9 19-8 19-8 19-7 18-8 19-7 19-7 19-6 19-7 18-8 19-8 19-6 19-5 19-2 18 2 19 7 19 10 19 14 19 19 18 37 19 54 19 76 19-3 19-53 18-27 19-14 19-10 19-2 37 21 38-3 38 27 37 13 38 11 37 23 38 6 38 27 37 20 38 16 37 46 38 12" stroke="#9E480E"/>
<path d="M543 1913l47-26 47-35 47-45 47-51 47-48 47-28 47-89 47-109 47-109 47-70 47-54 47-44 47-33 47-40 47-46 47-38 47-25 47-19 47-13 47-15 47-17 47-18 47-17 47-19 47-18 47-19 47-23 47-24 47-25 47-26 47-30 47-32 47-31 47-29 47-23 47-19 47-16 47-15 47-13 47-10 19-2 19-3 18 9 19 24 19 46 19 50 19-47 18-41 19-29 19-16 19-9 19-4 56-17 56-23 57-27 56-23 57-16 56-12 56-11 57-10 56-8 57-5 56-4 56-3 38-1 19 1 19 4 18 41 19 86 19 105 19 80 19 29 18 5 19-13 19-17 19-14 19-15 18-14 19-14 19-14 19-13 19-12 18-13 19-12 19-11 19-11 19-11 18-14 19-13 19-12 19-9 19-3 18 3 19 9 19 15 19 20 19 28 18 56 19 84 19 118 19-7 19-88 18-44 19-25 19-15 19 2 37 25 38 8 38 36 37 10 38 18 37 13 38 33 38 10 37 29 38 3 37 27 38 17" stroke="#636363"/>
<path d="M543 2005l47-17 47-21 47-26 47-31 47-29 47-20 47-51 47-61 47-62 47-45 47-43 47-39 47-36 47-39 47-39 47-35 47-29 47-27 47-23 47-22 47-22 47-22 47-22 47-21 47-23 47-24 47-25 47-26 47-27 47-26 47-28 47-30 47-30 47-29 47-27 47-23 47-21 47-19 47-16 47-13 19-4 19-3 18 3 19 12 19 25 19 26 19-28 18-25 19-18 19-10 19-6 19-4 56-12 56-16 57-16 56-15 57-11 56-10 56-9 57-8 56-8 57-7 56-6 56-4 38 0 19 1 19 3 18 24 19 49 19 62 19 48 19 17 18 5 19-7 19-9 19-8 19-7 18-7 19-7 19-6 19-7 19-5 18-6 19-5 19-5 19-5 19-5 18-5 19-6 19-5 19-3 19 0 18 3 19 8 19 11 19 14 19 19 18 36 19 51 19 72 19-1 19-47 18-22 19-12 19-6 19 2 37-1 38 10 38 34 37 9 38 33 37 4 38 15 38 28 37 6 38 30 37 25 38 48" stroke="#C55A11"/>
<path d="M543 2051l47-11 47-14 47-18 47-20 47-19 47-17 47-31 47-37 47-39 47-33 47-37 47-38 47-37 47-38 47-37 47-34 47-31 47-30 47-26 47-23 47-24 47-22 47-22 47-22 47-23 47-25 47-26 47-26 47-26 47-26 47-26 47-28 47-28 47-28 47-26 47-23 47-22 47-19 47-16 47-12 19-4 19-3 18 4 19 13 19 27 19 30 19-32 18-27 19-20 19-11 19-7 19-2 56-9 56-9 57-10 56-9 57-7 56-7 56-7 57-7 56-7 57-8 56-9 56-8 38-3 19 0 19 3 18 25 19 54 19 66 19 51 19 18 18 3 19-9 19-11 19-10 19-10 18-9 19-10 19-9 19-9 19-8 18-9 19-8 19-8 19-7 19-8 18-9 19-9 19-8 19-6 19-3 18 2 19 6 19 9 19 13 19 19 18 37 19 55 19 77 19-4 19-57 18-28 19-17 19-11 19 1 37 18 38 0 38-1 37 19 38 14 37 19 38 9 38 22 37 17 38 40 37 29 38 24" stroke="#255E91"/>
<path d="M543 2027l47-15 47-18 47-24 47-26 47-26 47-20 47-45 47-53 47-55 47-43 47-43 47-41 47-39 47-40 47-41 47-37 47-31 47-30 47-26 47-24 47-25 47-24 47-23 47-24 47-25 47-26 47-25 47-26 47-26 47-26 47-28 47-30 47-30 47-29 47-26 47-23 47-22 47-18 47-16 47-12 19-4 19-3 18 4 19 14 19 28 19 31 19-32 18-27 19-20 19-12 19-6 19-3 56-12 56-14 57-14 56-13 57-10 56-8 56-9 57-7 56-7 57-7 56-7 56-6 38-3 19 1 19 2 18 27 19 55 19 68 19 53 19 19 18 4 19-9 19-11 19-10 19-9 18-9 19-9 19-9 19-8 19-8 18-8 19-7 19-7 19-7 19-7 18-8 19-8 19-7 19-5 19-2 18 2 19 7 19 11 19 14 19 20 18 39 19 56 19 80 19-3 19-56 18-28 19-15 19-10 19 4 37 3 38 16 38 17 37 20 38 7 37 22 38 10 38 14 37 34 38 32 37-1 38 37" stroke="#43682B"/>
<path d="M543 1945l47-23 47-31 47-38 47-45 47-41 47-27 47-76 47-93 47-94 47-63 47-51 47-43 47-34 47-40 47-44 47-38 47-27 47-22 47-20 47-20 47-22 47-22 47-22 47-22 47-23 47-23 47-24 47-24 47-26 47-26 47-30 47-32 47-31 47-29 47-24 47-20 47-18 47-16 47-13 47-11 19-3 19-3 18 7 19 18 19 35 19 38 19-37 18-33 19-23 19-13 19-8 19-3 56-17 56-21 57-24 56-20 57-14 56-10 56-10 57-8 56-7 57-5 56-4 56-2 38-1 19 1 19 3 18 32 19 67 19 83 19 65 19 23 18 6 19-10 19-12 19-11 19-10 18-10 19-10 19-9 19-9 19-8 18-9 19-7 19-8 19-6 19-8 18-8 19-9 19-7 19-5 19-1 18 4 19 9 19 13 19 17 19 24 18 46 19 67 19 95 19-3 19-66 18-32 19-17 19-10 19-10 37 29 38 30 38 13 37 2 38 45 37 7 38 11 38 27 37 23 38 25 37 12 38 17" stroke="#698ED0"/>
<path d="M543 1913l47-26 47-34 47-44 47-49 47-46 47-27 47-85 47-104 47-104 47-65 47-50 47-41 47-32 47-37 47-43 47-36 47-24 47-19 47-16 47-17 47-19 47-20 47-19 47-21 47-20 47-21 47-24 47-25 47-26 47-27 47-31 47-33 47-32 47-29 47-25 47-19 47-17 47-15 47-12 47-10 19-3 19-2 18 8 19 22 19 41 19 45 19-43 18-37 19-26 19-15 19-8 19-4 56-16 56-23 57-23 56-21 57-14 56-10 56-9 57-8 56-6 57-3 56-3 56-2 38 0 19 1 19 3 18 37 19 77 19 95 19 72 19 26 18 5 19-11 19-15 19-13 19-12 18-13 19-12 19-12 19-11 19-11 18-10 19-10 19-10 19-9 19-9 18-12 19-11 19-10 19-7 19-2 18 3 19 9 19 14 19 18 19 26 18 51 19 76 19 106 19-5 19-78 18-38 19-21 19-14 19 6 37 5 38 31 38 27 37 8 38 16 37 32 38-4 38 38 37 5 38 22 37 29 38 13" stroke="#F1975A"/>
<path d="M543 2046l47-12 47-17 47-20 47-23 47-24 47-19 47-39 47-46 47-49 47-41 47-42 47-42 47-41 47-42 47-42 47-38 47-34 47-32 47-27 47-26 47-25 47-25 47-24 47-25 47-25 47-26 47-26 47-26 47-26 47-26 47-28 47-29 47-29 47-28 47-25 47-23 47-21 47-19 47-15 47-11 19-4 19-3 18 4 19 13 19 27 19 29 19-29 18-26 19-19 19-10 19-6 19-2 56-9 56-11 57-11 56-10 57-7 56-6 56-6 57-5 56-5 57-6 56-6 56-5 38-1 19 1 19 3 18 24 19 52 19 64 19 49 19 18 18 4 19-8 19-9 19-9 19-8 18-8 19-8 19-8 19-7 19-8 18-8 19-7 19-6 19-6 19-7 18-8 19-8 19-7 19-4 19-2 18 2 19 6 19 10 19 13 19 18 18 36 19 53 19 73 19-2 19-52 18-26 19-14 19-9 19 4 37-3 38 20 38 5 37 22 38 19 37 7 38 9 38 30 37 10 38 38 37 25 38 26" stroke="#B7B7B7"/>
<path d="M543 2005l47-17 47-22 47-28 47-31 47-30 47-22 47-53 47-64 47-66 47-48 47-45 47-41 47-37 47-40 47-41 47-36 47-30 47-27 47-24 47-23 47-23 47-23 47-22 47-23 47-24 47-24 47-25 47-26 47-26 47-26 47-28 47-30 47-30 47-28 47-25 47-22 47-20 47-18 47-14 47-12 19-3 19-3 18 4 19 14 19 28 19 31 19-31 18-27 19-19 19-11 19-7 19-3 56-12 56-15 57-15 56-14 57-10 56-9 56-7 57-8 56-6 57-6 56-6 56-4 38-2 19 0 19 2 18 25 19 54 19 66 19 52 19 19 18 3 19-8 19-11 19-10 19-9 18-9 19-9 19-8 19-8 19-8 18-8 19-7 19-6 19-7 19-6 18-8 19-8 19-7 19-5 19-1 18 2 19 7 19 11 19 14 19 20 18 38 19 55 19 79 19-2 19-55 18-27 19-14 19-9 19-4 37 19 38 20 38-1 37 15 38 18 37 21 38 21 38 16 37 20 38 32 37 17 38 28" stroke="#FFCD33"/>
<path d="M543 2051l47-11 47-15 47-18 47-20 47-20 47-17 47-32 47-38 47-40 47-35 47-37 47-39 47-38 47-39 47-37 47-35 47-31 47-31 47-26 47-24 47-24 47-23 47-23 47-22 47-24 47-25 47-27 47-27 47-27 47-26 47-28 47-29 47-29 47-29 47-27 47-25 47-22 47-20 47-17 47-13 19-4 19-3 18 1 19 8 19 18 19 19 19-22 18-19 19-14 19-8 19-5 19-3 56-9 56-10 57-11 56-10 57-8 56-7 56-7 57-7 56-6 57-6 56-8 56-5 38-2 19 0 19 2 18 18 19 36 19 46 19 36 19 13 18 3 19-5 19-7 19-5 19-6 18-5 19-5 19-5 19-4 19-5 18-4 19-3 19-4 19-3 19-3 18-4 19-4 19-4 19-2 19 1 18 2 19 7 19 9 19 11 19 16 18 28 19 40 19 56 19 1 19-35 18-16 19-7 19-5 19-14 37 22 38 6 38 20 37 10 38 12 37 21 38 14 38 26 37 18 38 14 37 33 38 33" stroke="#7CAFDD"/>
<path d="M543 1952l47-22 47-30 47-37 47-43 47-40 47-26 47-73 47-90 47-91 47-60 47-51 47-42 47-35 47-40 47-44 47-38 47-27 47-23 47-20 47-21 47-21 47-22 47-22 47-22 47-23 47-23 47-23 47-24 47-25 47-25 47-29 47-31 47-30 47-28 47-24 47-19 47-17 47-16 47-12 47-10 19-3 19-2 18 7 19 21 19 40 19 43 19-41 18-36 19-25 19-15 19-9 19-4 56-17 56-23 57-23 56-22 57-15 56-12 56-11 57-10 56-9 57-7 56-6 56-5 38-2 19 1 19 3 18 36 19 75 19 92 19 71 19 26 18 4 19-12 19-15 19-13 19-13 18-13 19-13 19-12 19-11 19-12 18-11 19-10 19-10 19-9 19-9 18-12 19-11 19-10 19-7 19-2 18 3 19 9 19 14 19 17 19 26 18 51 19 74 19 106 19-6 19-77 18-38 19-21 19-14 19 1 37 12 38 22 38 27 37 17 38 11 37 29 38 11 38 21 37 27 38 27 37 8 38 13" stroke="#8CC168"/>
<path d="M543 2016l47-14 47-19 47-23 47-27 47-25 47-18 47-43 47-52 47-52 47-40 47-38 47-37 47-35 47-36 47-36 47-33 47-28 47-26 47-24 47-21 47-21 47-21 47-21 47-20 47-22 47-23 47-26 47-27 47-26 47-26 47-28 47-29 47-29 47-29 47-26 47-23 47-22 47-19 47-15 47-12 19-4 19-3 18 4 19 12 19 25 19 27 19-28 18-26 19-18 19-10 19-6 19-3 56-10 56-12 57-12 56-11 57-8 56-8 56-7 57-7 56-6 57-7 56-8 56-6 38-2 19 0 19 2 18 24 19 49 19 61 19 48 19 17 18 4 19-8 19-10 19-8 19-9 18-8 19-8 19-7 19-7 19-7 18-6 19-7 19-5 19-6 19-6 18-6 19-7 19-6 19-4 19-1 18 2 19 7 19 11 19 13 19 18 18 36 19 51 19 72 19-2 19-49 18-24 19-13 19-8 19-2 37 6 38 27 38 1 37 4 38 26 37 33 38-3 38 30 37 17 38 27 37 24 38 22" stroke="#335AA1"/>
<path d="M543 2011l47-16 47-20 47-26 47-29 47-28 47-21 47-50 47-60 47-62 47-47 47-44 47-41 47-38 47-41 47-41 47-37 47-31 47-29 47-25 47-23 47-24 47-24 47-23 47-24 47-25 47-25 47-26 47-26 47-26 47-27 47-28 47-31 47-30 47-29 47-26 47-23 47-20 47-19 47-15 47-12 19-3 19-3 18 5 19 16 19 31 19 35 19-35 18-31 19-21 19-13 19-7 19-3 56-13 56-15 57-16 56-15 57-10 56-9 56-9 57-8 56-7 57-7 56-8 56-6 38-2 19 0 19 3 18 29 19 62 19 76 19 58 19 21 18 4 19-10 19-12 19-11 19-11 18-10 19-10 19-10 19-9 19-10 18-9 19-8 19-8 19-8 19-8 18-10 19-9 19-8 19-6 19-3 18 3 19 7 19 11 19 15 19 22 18 42 19 62 19 88 19-4 19-64 18-31 19-18 19-11 19-6 37 10 38 22 38 23 37 22 38 5 37 21 38 22 38 21 37 22 38 18 37 20 38 35" stroke="#BE5F1B"/>
<path d="M543 2069l47-10 47-13 47-15 47-17 47-17 47-16 47-27 47-31 47-33 47-33 47-36 47-40 47-39 47-40 47-38 47-35 47-33 47-33 47-29 47-27 47-26 47-25 47-25 47-25 47-26 47-27 47-27 47-27 47-27 47-27 47-27 47-29 47-29 47-28 47-27 47-25 47-23 47-20 47-16 47-13 19-4 19-3 18 2 19 11 19 23 19 25 19-27 18-24 19-17 19-10 19-5 19-3 56-9 56-9 57-10 56-9 57-7 56-7 56-7 57-7 56-7 57-9 56-9 56-7 38-3 19 0 19 2 18 21 19 46 19 57 19 44 19 15 18 3 19-7 19-9 19-9 19-8 18-7 19-8 19-7 19-7 19-7 18-6 19-5 19-5 19-5 19-5 18-7 19-6 19-5 19-4 19-1 18 3 19 7 19 10 19 12 19 18 18 33 19 48 19 68 19-2 19-45 18-23 19-11 19-8 19-3 37 4 38 24 38 3 37 18 38 19 37 21 38 8 38 28 37 22 38 30 37 29 38 2" stroke="#848484"/>
<path d="M543 1991l47-18 47-24 47-31 47-35 47-35 47-23 47-60 47-74 47-75 47-53 47-49 47-43 47-39 47-41 47-44 47-39 47-30 47-27 47-24 47-23 47-24 47-24 47-24 47-24 47-25 47-25 47-25 47-25 47-26 47-27 47-29 47-31 47-31 47-28 47-26 47-21 47-19 47-17 47-14 47-11 19-3 19-2 18 6 19 17 19 34 19 37 19-36 18-31 19-22 19-13 19-7 19-3 56-13 56-17 57-17 56-16 57-10 56-9 56-7 57-7 56-5 57-5 56-4 56-3 38-1 19 1 19 4 18 31 19 64 19 79 19 60 19 23 18 4 19-10 19-13 19-11 19-11 18-11 19-10 19-10 19-10 19-9 18-9 19-9 19-8 19-8 19-8 18-10 19-10 19-8 19-6 19-2 18 2 19 8 19 12 19 15 19 22 18 43 19 64 19 91 19-4 19-66 18-32 19-17 19-12 19-1 37 24 38 12 38 12 37 13 38 14 37 16 38 22 38 17 37 18 38 25 37 19 38 29" stroke="#997300"/>
<path d="M543 2024l47-14 47-17 47-22 47-25 47-24 47-17 47-40 47-48 47-48 47-37 47-38 47-36 47-35 47-36 47-36 47-32 47-28 47-27 47-23 47-21 47-21 47-20 47-20 47-21 47-23 47-25 47-27 47-27 47-28 47-27 47-29 47-30 47-30 47-29 47-28 47-24 47-23 47-20 47-17 47-13 19-4 19-3 18 3 19 13 19 27 19 30 19-31 18-28 19-19 19-12 19-7 19-3 56-10 56-13 57-11 56-9 57-7 56-6 56-5 57-5 56-6 57-5 56-6 56-5 38-2 19 1 19 3 18 26 19 53 19 66 19 51 19 19 18 4 19-8 19-10 19-9 19-9 18-9 19-8 19-8 19-8 19-7 18-7 19-7 19-7 19-6 19-6 18-8 19-8 19-6 19-5 19-1 18 2 19 7 19 10 19 13 19 19 18 36 19 54 19 75 19-3 19-54 18-27 19-15 19-10 19-11 37 24 38 4 38 18 37 21 38 3 37 6 38 16 38 22 37 35 38 22 37 32 38 16" stroke="#3A7BC8"/>
<path d="M543 2055l47-12 47-14 47-18 47-20 47-20 47-17 47-32 47-38 47-40 47-35 47-38 47-40 47-39 47-39 47-39 47-35 47-32 47-32 47-27 47-25 47-26 47-24 47-25 47-24 47-26 47-27 47-27 47-27 47-27 47-27 47-28 47-29 47-30 47-29 47-27 47-25 47-22 47-20 47-17 47-12 19-4 19-4 18 4 19 13 19 25 19 29 19-30 18-27 19-19 19-10 19-7 19-2 56-9 56-10 57-10 56-9 57-7 56-7 56-6 57-7 56-6 57-6 56-8 56-6 38-2 19 0 19 2 18 25 19 52 19 63 19 49 19 18 18 3 19-8 19-10 19-9 19-9 18-8 19-8 19-8 19-8 19-8 18-7 19-7 19-6 19-7 19-6 18-8 19-8 19-7 19-5 19-2 18 3 19 6 19 10 19 13 19 18 18 36 19 53 19 74 19-3 19-53 18-26 19-14 19-9 19-5 37 13 38 14 38-4 37 32 38-3 37 31 38 9 38 32 37 28 38 21 37 26 38 11" stroke="#5A8A39"/>
<path d="M543 2096l47-10 47-10 47-12 47-12 47-13 47-14 47-15 47-17 47-20 47-25 47-32 47-37 47-39 47-39 47-35 47-30 47-29 47-27 47-27 47-27 47-28 47-28 47-28 47-28 47-28 47-28 47-28 47-28 47-28 47-28 47-29 47-30 47-32 47-31 47-31 47-30 47-28 47-25 47-22 47-17 19-7 19-5 18 0 19 9 19 21 19 23 19-30 18-26 19-20 19-12 19-8 19-4 56-12 56-12 57-13 56-13 57-14 56-12 56-13 57-11 56-9 57-8 56-6 56-3 38-1 19 1 19 2 18 23 19 49 19 61 19 46 19 17 18 3 19-8 19-10 19-9 19-9 18-9 19-9 19-8 19-8 19-8 18-8 19-7 19-7 19-7 19-7 18-8 19-8 19-8 19-5 19-3 18 2 19 5 19 9 19 12 19 17 18 34 19 50 19 72 19-3 19-51 18-24 19-13 19-7 19 1 37 15 38 16 38 16 37 15 38 16 37 15 38 16 38 15 37 16 38 15 37 16 38 15" stroke="#1B2A47"/>
<path d="M543 1908l47-28 47-35 47-44 47-50 47-48 47-25 47-102 47-111 47-113 47-78 47-48 47-37 47-37 47-46 47-54 47-54 47-42 47-19 47-4 47-3 47-5 47-8 47-11 47-12 47-14 47-15 47-16 47-18 47-21 47-24 47-25 47-25 47-26 47-25 47-24 47-23 47-25 47-25 47-22 47-19 19-5 19-5 18 5 19 17 19 34 19 38 19-39 18-35 19-25 19-15 19-8 19-4 56-11 56-12 57-11 56-11 57-9 56-10 56-10 57-9 56-9 57-8 56-6 56-3 38-1 19 1 19 4 18 33 19 68 19 84 19 65 19 24 18 5 19-9 19-13 19-10 19-11 18-10 19-10 19-9 19-9 19-9 18-8 19-8 19-7 19-6 19-8 18-9 19-8 19-8 19-5 19-1 18 4 19 9 19 13 19 16 19 22 18 46 19 66 19 95 19-4 19-68 18-34 19-17 19-10 19 2 37 21 38 21 38 21 37 21 38 21 37 21 38 21 38 21 37 22 38 21 37 21 38 21" stroke="#8FAADC"/>
<path d="M543 1980l47-17 47-29 47-37 47-43 47-51 47-74 47-86 47-86 47-75 47-62 47-58 47-56 47-56 47-61 47-65 47-61 47-47 47-35 47-29 47-27 47-28 47-27 47-27 47-27 47-25 47-24 47-24 47-20 47-22 47-25 47-32 47-34 47-33 47-28 47-20 47-12 47-10 47-8 47-6 47-6 19-2 19-1 18 7 19 20 19 37 19 41 19-39 18-34 19-24 19-13 19-7 19-2 56-6 56-7 57-8 56-6 57-6 56-5 56-6 57-4 56-3 57-1 56 0 56 0 38 0 19 1 19 4 18 32 19 67 19 83 19 64 19 24 18 5 19-10 19-12 19-11 19-11 18-10 19-10 19-10 19-9 19-8 18-9 19-8 19-7 19-7 19-8 18-9 19-9 19-8 19-5 19-1 18 3 19 9 19 13 19 16 19 22 18 45 19 67 19 94 19-4 19-68 18-32 19-18 19-10 19 2 37 20 38 21 38 20 37 20 38 20 37 20 38 20 38 20 37 20 38 19 37 20 38 19" stroke="#A67C00"/>
<path d="M543 1966l47-17 47-26 47-33 47-38 47-44 47-61 47-71 47-72 47-63 47-57 47-55 47-52 47-46 47-40 47-37 47-35 47-32 47-30 47-30 47-29 47-28 47-28 47-27 47-27 47-26 47-25 47-25 47-24 47-25 47-25 47-25 47-25 47-26 47-25 47-25 47-24 47-23 47-21 47-20 47-18 19-6 19-6 18 3 19 16 19 33 19 37 19-41 18-37 19-27 19-16 19-11 19-7 56-23 56-27 57-27 56-26 57-22 56-19 56-18 57-17 56-16 57-15 56-16 56-15 38-6 19-1 19 2 18 35 19 72 19 90 19 68 19 24 18 3 19-13 19-17 19-16 19-15 18-15 19-16 19-14 19-15 19-15 18-14 19-14 19-14 19-13 19-14 18-16 19-16 19-15 19-12 19-7 18-2 19 6 19 13 19 19 19 29 18 55 19 81 19 113 19-1 19-76 18-36 19-19 19-13 19 0 37 18 38 19 38 19 37 19 38 23 37 31 38 42 38 41 37 30 38 25 37 21 38 17" stroke="#375623"/>
<path d="M543 2003l47-20 47-25 47-26 47-26 47-35 47-53 47-61 47-60 47-61 47-59 47-51 47-45 47-41 47-39 47-41 47-42 47-38 47-28 47-19 47-16 47-17 47-20 47-22 47-24 47-23 47-23 47-23 47-22 47-22 47-22 47-23 47-23 47-24 47-22 47-20 47-21 47-19 47-17 47-12 47-9 19-3 19-1 18 2 19 17 19 35 19 22 19-20 18-19 19-15 19-14 19-13 19-12 56-29 56-22 57-18 56-15 57-14 56-14 56-12 57-8 56-4 57-3 56-2 56-1 38 1 19 2 19 2 18 25 19 64 19 61 19 69 19 35 18-5 19-9 19-11 19-12 19-14 18-15 19-13 19-13 19-11 19-12 18-10 19-11 19-10 19-9 19-10 18-11 19-10 19-9 19-7 19-2 18 3 19 9 19 14 19 26 19 42 18 42 19 53 19 45 19-3 19-46 18-26 19-18 19-2 19 3 37 17 38 26 38 29 37 27 38 23 37 23 38 24 38 22 37 21 38 19 37 17 38 16" class="avg"/>
</g></g>
<g clip-path="url(#c2)"><g class="c" transform="scale(0.1)">
<path d="M543 4830l47-9 47-11 47-15 47-16 47-19 47-20 47-23 47-24 47-24 47-27 47-32 47-35 47-37 47-36 47-34 47-28 47-24 47-20 47-19 47-17 47-16 47-16 47-16 47-16 47-16 47-15 47-15 47-13 47-13 47-13 47-11 47-12 47-11 47-10 47-10 47-10 47-9 47-8 47-8 47-7 19-3 19-3 18 0 19 4 19 7 19 12 19-15 18-12 19-9 19-5 19-3 19-2 56-7 56-6 57-6 56-6 57-6 56-6 56-5 57-6 56-5 57-4 56-4 56-4 38-2 19 0 19 2 18 13 19 23 19 27 19 26 19 17 18 1 19-2 19-9 19-6 19-6 18-7 19-6 19-6 19-6 19-6 18-6 19-6 19-6 19-6 19-7 18-8 19-8 19-6 19-5 19 0 18 2 19 4 19 5 19 7 19 10 18 15 19 19 19 24 19 3 19-17 18-10 19-5 19 0 19 13 37 3 38 19 38-10 37 21 38-5 37 28 38 13 38 25 37 15 38 10 37 6 38 29" stroke="#4472C4"/>
<path d="M543 4747l47-23 47-27 47-31 47-33 47-36 47-39 47-45 47-48 47-48 47-47 47-51 47-54 47-54 47-51 47-47 47-40 47-30 47-24 47-21 47-18 47-18 47-20 47-20 47-21 47-20 47-21 47-18 47-19 47-19 47-19 47-18 47-19 47-17 47-17 47-16 47-15 47-15 47-13 47-12 47-10 19-4 19-4 18 1 19 7 19 14 19 24 19-26 18-22 19-16 19-8 19-5 19-3 56-9 56-9 57-9 56-8 57-8 56-7 56-7 57-7 56-6 57-5 56-6 56-5 38-3 19-1 19 3 18 24 19 43 19 50 19 47 19 31 18 1 19-3 19-14 19-11 19-11 18-10 19-11 19-10 19-11 19-10 18-10 19-10 19-11 19-10 19-12 18-14 19-14 19-12 19-7 19 0 18 3 19 6 19 7 19 10 19 16 18 25 19 31 19 40 19 4 19-34 18-21 19-13 19-2 19-11 37 19 38 29 38 23 37 18 38 16 37 27 38 4 38 48 37 18 38 26 37 27 38 39" stroke="#ED7D31"/>
<path d="M543 4832l47-10 47-13 47-16 47-18 47-20 47-23 47-25 47-27 47-27 47-30 47-35 47-39 47-41 47-39 47-37 47-32 47-27 47-23 47-21 47-20 47-18 47-19 47-18 47-19 47-18 47-17 47-15 47-14 47-13 47-13 47-13 47-12 47-12 47-12 47-11 47-10 47-10 47-9 47-8 47-8 19-3 19-3 18 1 19 5 19 11 19 17 19-19 18-16 19-12 19-6 19-4 19-2 56-7 56-6 57-7 56-7 57-6 56-7 56-6 57-6 56-5 57-6 56-4 56-5 38-2 19 0 19 1 18 19 19 32 19 37 19 35 19 24 18 0 19-3 19-11 19-9 19-8 18-9 19-8 19-9 19-8 19-8 18-9 19-8 19-8 19-9 19-9 18-12 19-11 19-9 19-6 19-1 18 2 19 4 19 6 19 7 19 13 18 19 19 24 19 31 19 2 19-26 18-16 19-10 19-2 19 11 37-5 38 12 38 6 37 17 38 5 37 30 38 6 38 19 37 16 38 27 37 10 38 26" stroke="#A5A5A5"/>
<path d="M543 4812l47-14 47-17 47-20 47-23 47-26 47-28 47-32 47-35 47-36 47-37 47-43 47-46 47-47 47-47 47-43 47-38 47-31 47-26 47-24 47-20 47-20 47-21 47-20 47-20 47-21 47-20 47-15 47-15 47-15 47-14 47-13 47-13 47-12 47-12 47-11 47-11 47-9 47-9 47-8 47-7 19-2 19-2 18 2 19 8 19 14 19 23 19-23 18-20 19-14 19-7 19-5 19-3 56-8 56-8 57-8 56-8 57-7 56-8 56-7 57-7 56-6 57-6 56-6 56-5 38-4 19 0 19 2 18 24 19 40 19 48 19 43 19 30 18 0 19-3 19-14 19-11 19-10 18-11 19-11 19-10 19-11 19-10 18-10 19-11 19-10 19-10 19-12 18-14 19-13 19-12 19-7 19-1 18 3 19 5 19 7 19 9 19 15 18 24 19 29 19 38 19 3 19-33 18-22 19-13 19-3 19 8 37 9 38-1 38 24 37 29 38 9 37 27 38 7 38 12 37 34 38-2 37 23 38 26" stroke="#FFC000"/>
<path d="M543 4852l47-7 47-10 47-12 47-15 47-17 47-18 47-22 47-22 47-24 47-26 47-33 47-36 47-39 47-38 47-36 47-31 47-26 47-24 47-22 47-21 47-19 47-20 47-19 47-19 47-18 47-18 47-15 47-14 47-13 47-12 47-12 47-12 47-11 47-11 47-10 47-10 47-9 47-9 47-8 47-7 19-3 19-3 18 1 19 4 19 8 19 14 19-16 18-14 19-10 19-5 19-4 19-2 56-6 56-7 57-7 56-6 57-7 56-6 56-6 57-6 56-2 57-1 56-1 56-1 38 0 19 1 19 3 18 16 19 26 19 32 19 29 19 20 18 1 19-1 19-8 19-7 19-6 18-6 19-6 19-5 19-6 19-6 18-6 19-5 19-6 19-6 19-6 18-8 19-8 19-6 19-4 19 1 18 2 19 5 19 6 19 7 19 11 18 17 19 20 19 26 19 4 19-19 18-11 19-6 19 0 19 3 37 14 38 9 38 4 37 23 38 10 37-2 38 15 38 26 37-1 38 26 37-4 38 16" stroke="#5B9BD5"/>
<path d="M543 4726l47-26 47-29 47-34 47-36 47-39 47-42 47-49 47-53 47-51 47-51 47-53 47-56 47-56 47-53 47-48 47-40 47-31 47-24 47-19 47-17 47-18 47-19 47-20 47-20 47-20 47-21 47-18 47-18 47-18 47-17 47-17 47-17 47-16 47-15 47-14 47-13 47-12 47-11 47-9 47-9 19-2 19-3 18 2 19 7 19 13 19 22 19-22 18-20 19-13 19-7 19-4 19-2 56-6 56-6 57-5 56-5 57-7 56-8 56-8 57-7 56-8 57-7 56-6 56-7 38-4 19-1 19 2 18 22 19 39 19 45 19 42 19 29 18 0 19-3 19-13 19-11 19-10 18-10 19-10 19-10 19-10 19-9 18-10 19-9 19-10 19-10 19-11 18-13 19-13 19-11 19-6 19-1 18 3 19 5 19 7 19 8 19 16 18 22 19 29 19 37 19 5 19-31 18-18 19-11 19-1 19 16 37 2 38 18 38 25 37 17 38 13 37 29 38 15 38 45 37 29 38 11 37 48 38 13" stroke="#70AD47"/>
<path d="M543 4686l47-32 47-36 47-40 47-43 47-45 47-50 47-56 47-61 47-59 47-56 47-58 47-60 47-59 47-56 47-49 47-41 47-31 47-21 47-19 47-16 47-16 47-19 47-19 47-20 47-20 47-21 47-22 47-22 47-22 47-21 47-22 47-20 47-21 47-19 47-19 47-17 47-16 47-15 47-14 47-11 19-5 19-4 18 1 19 7 19 13 19 23 19-25 18-22 19-15 19-8 19-5 19-3 56-9 56-9 57-8 56-8 57-7 56-7 56-7 57-6 56-6 57-5 56-6 56-5 38-3 19-1 19 3 18 24 19 42 19 49 19 45 19 32 18 1 19-2 19-14 19-10 19-10 18-10 19-10 19-10 19-10 19-9 18-10 19-9 19-9 19-10 19-11 18-13 19-12 19-11 19-6 19 0 18 4 19 6 19 8 19 10 19 17 18 24 19 31 19 40 19 5 19-31 18-20 19-11 19-1 19-8 37 20 38 30 38 18 37 37 38 7 37 24 38 41 38 29 37 30 38 24 37 32 38 48" stroke="#264478"/>
<path d="M543 4755l47-21 47-24 47-27 47-30 47-32 47-35 47-40 47-43 47-42 47-41 47-46 47-48 47-48 47-46 47-41 47-35 47-27 47-20 47-18 47-15 47-16 47-16 47-17 47-16 47-17 47-17 47-17 47-17 47-16 47-17 47-17 47-16 47-15 47-15 47-14 47-14 47-12 47-12 47-10 47-10 19-3 19-4 18 2 19 7 19 14 19 23 19-25 18-21 19-15 19-7 19-5 19-3 56-8 56-8 57-8 56-8 57-7 56-7 56-7 57-4 56-4 57-4 56-4 56-3 38-2 19 1 19 3 18 24 19 42 19 49 19 45 19 31 18 1 19-3 19-13 19-10 19-10 18-10 19-10 19-10 19-9 19-10 18-9 19-10 19-9 19-10 19-11 18-13 19-13 19-11 19-7 19 0 18 3 19 6 19 8 19 9 19 16 18 24 19 30 19 39 19 4 19-32 18-21 19-12 19-2 19-3 37 36 38 0 38 19 37 10 38 15 37 17 38 20 38 32 37 26 38 13 37 31 38 36" stroke="#9E480E"/>
<path d="M543 4756l47-21 47-24 47-28 47-30 47-33 47-36 47-41 47-44 47-43 47-43 47-47 47-50 47-49 47-48 47-43 47-37 47-28 47-22 47-19 47-18 47-17 47-18 47-18 47-19 47-19 47-18 47-19 47-18 47-17 47-17 47-17 47-17 47-15 47-16 47-14 47-14 47-12 47-12 47-11 47-9 19-4 19-3 18 1 19 5 19 10 19 18 19-20 18-18 19-12 19-6 19-5 19-2 56-8 56-8 57-7 56-7 57-7 56-6 56-6 57-6 56-6 57-5 56-5 56-4 38-3 19 0 19 2 18 19 19 33 19 39 19 36 19 25 18 1 19-3 19-11 19-8 19-9 18-8 19-8 19-8 19-8 19-8 18-7 19-7 19-8 19-7 19-8 18-11 19-10 19-8 19-4 19 0 18 3 19 6 19 7 19 8 19 14 18 21 19 25 19 33 19 4 19-24 18-15 19-8 19 0 19-2 37 29 38 7 38 12 37 20 38 25 37 16 38 25 38 20 37 31 38 27 37 21 38 31" stroke="#636363"/>
<path d="M543 4868l47-3 47-6 47-7 47-9 47-11 47-12 47-13 47-14 47-14 47-18 47-23 47-28 47-31 47-31 47-29 47-26 47-21 47-21 47-19 47-18 47-17 47-16 47-15 47-15 47-14 47-13 47-13 47-12 47-11 47-10 47-10 47-10 47-9 47-8 47-8 47-8 47-6 47-5 47-5 47-5 19-2 19-2 18 1 19 4 19 7 19 12 19-13 18-10 19-8 19-3 19-2 19-2 56-3 56-4 57-4 56-4 57-4 56-4 56-4 57-3 56-3 57-3 56-2 56-1 38-1 19 0 19 1 18 12 19 20 19 24 19 22 19 15 18 0 19-3 19-8 19-6 19-6 18-6 19-6 19-7 19-6 19-6 18-6 19-6 19-6 19-6 19-7 18-8 19-8 19-7 19-4 19-1 18 1 19 2 19 4 19 5 19 9 18 13 19 16 19 21 19 2 19-17 18-10 19-7 19-1 19-2 37 5 38 9 38 14 37-1 38 1 37 13 38 27 38-16 37 25 38-12 37 11 38 20" stroke="#C55A11"/>
<path d="M543 4762l47-19 47-22 47-26 47-28 47-30 47-32 47-38 47-40 47-39 47-41 47-44 47-48 47-48 47-46 47-42 47-35 47-28 47-21 47-19 47-17 47-17 47-17 47-18 47-18 47-18 47-18 47-18 47-17 47-17 47-17 47-16 47-15 47-16 47-13 47-14 47-12 47-11 47-11 47-9 47-9 19-3 19-3 18 2 19 6 19 13 19 21 19-22 18-19 19-14 19-7 19-4 19-2 56-7 56-7 57-6 56-7 57-6 56-6 56-5 57-6 56-5 57-4 56-5 56-5 38-4 19 0 19 2 18 22 19 37 19 45 19 41 19 27 18 1 19-3 19-13 19-10 19-10 18-10 19-9 19-10 19-10 19-9 18-9 19-10 19-9 19-10 19-11 18-13 19-13 19-10 19-7 19-1 18 3 19 5 19 6 19 9 19 14 18 23 19 27 19 36 19 4 19-31 18-19 19-12 19-2 19-3 37 11 38 16 38 31 37-1 38 15 37 30 38 8 38 25 37 19 38 42 37 14 38 20" stroke="#255E91"/>
<path d="M543 4886l47-1 47-4 47-7 47-8 47-10 47-12 47-13 47-14 47-15 47-20 47-26 47-31 47-33 47-34 47-31 47-29 47-25 47-23 47-23 47-21 47-20 47-18 47-16 47-15 47-14 47-14 47-11 47-10 47-8 47-8 47-8 47-7 47-6 47-6 47-6 47-5 47-5 47-4 47-4 47-4 19-2 19-1 18 1 19 3 19 6 19 11 19-11 18-9 19-6 19-3 19-2 19-1 56-3 56-8 57-9 56-8 57-9 56-8 56-9 57-7 56-8 57-7 56-7 56-6 38-3 19-1 19 0 18 10 19 19 19 22 19 21 19 14 18-1 19-3 19-8 19-7 19-6 18-7 19-6 19-7 19-6 19-6 18-7 19-6 19-6 19-7 19-7 18-8 19-8 19-7 19-4 19 0 18 1 19 3 19 4 19 6 19 9 18 13 19 16 19 21 19 3 19-16 18-9 19-6 19 0 19-5 37-2 38 30 38-4 37 20 38 12 37-1 38 13 38 20 37 0 38-4 37 30 38 11" stroke="#43682B"/>
<path d="M543 4886l47 0 47-4 47-5 47-7 47-9 47-10 47-11 47-11 47-12 47-17 47-24 47-27 47-31 47-32 47-31 47-27 47-24 47-23 47-23 47-21 47-19 47-19 47-18 47-17 47-17 47-16 47-14 47-12 47-11 47-11 47-10 47-8 47-8 47-8 47-7 47-6 47-7 47-6 47-6 47-5 19-2 19-2 18 1 19 3 19 8 19 12 19-13 18-12 19-8 19-4 19-3 19-1 56-5 56-5 57-5 56-5 57-5 56-5 56-5 57-4 56-5 57-4 56-3 56-3 38-2 19 0 19 1 18 13 19 23 19 27 19 25 19 16 18 0 19-2 19-8 19-6 19-7 18-6 19-7 19-6 19-6 19-7 18-6 19-6 19-6 19-7 19-7 18-8 19-8 19-7 19-5 19-1 18 2 19 3 19 4 19 6 19 9 18 14 19 18 19 23 19 2 19-18 18-12 19-7 19-1 19-3 37 18 38-11 38 18 37 3 38 17 37-3 38-1 38 25 37 14 38 1 37 9 38 6" stroke="#698ED0"/>
<path d="M543 4850l47-6 47-9 47-11 47-13 47-14 47-17 47-18 47-19 47-20 47-23 47-28 47-32 47-34 47-34 47-31 47-27 47-22 47-21 47-18 47-18 47-16 47-16 47-15 47-15 47-14 47-13 47-14 47-12 47-11 47-10 47-10 47-10 47-9 47-8 47-9 47-7 47-7 47-7 47-7 47-6 19-2 19-2 18 1 19 4 19 8 19 13 19-14 18-13 19-9 19-4 19-3 19-2 56-5 56-5 57-5 56-8 57-7 56-7 56-7 57-7 56-7 57-5 56-6 56-4 38-3 19-1 19 1 18 14 19 25 19 30 19 27 19 18 18 0 19-3 19-9 19-7 19-8 18-7 19-8 19-7 19-7 19-7 18-8 19-7 19-7 19-7 19-9 18-9 19-10 19-8 19-5 19-1 18 1 19 3 19 5 19 5 19 11 18 15 19 20 19 25 19 2 19-21 18-13 19-8 19-1 19 7 37 6 38 12 38 1 37 2 38 14 37 21 38-1 38 8 37 21 38 13 37 11 38 10" stroke="#F1975A"/>
<path d="M543 4833l47-9 47-11 47-14 47-15 47-18 47-19 47-21 47-23 47-22 47-26 47-30 47-34 47-35 47-35 47-32 47-28 47-23 47-21 47-19 47-17 47-17 47-16 47-15 47-16 47-15 47-14 47-15 47-15 47-13 47-13 47-12 47-12 47-12 47-11 47-10 47-10 47-10 47-9 47-9 47-7 19-3 19-3 18 1 19 4 19 8 19 15 19-17 18-14 19-10 19-5 19-4 19-2 56-7 56-6 57-7 56-7 57-6 56-7 56-6 57-6 56-5 57-5 56-5 56-4 38-2 19-1 19 2 18 15 19 28 19 32 19 30 19 20 18 1 19-3 19-9 19-7 19-7 18-8 19-7 19-7 19-7 19-6 18-7 19-7 19-7 19-7 19-8 18-9 19-9 19-8 19-5 19 0 18 2 19 4 19 5 19 7 19 12 18 17 19 21 19 27 19 3 19-22 18-13 19-8 19-1 19-10 37 21 38 12 38 22 37-7 38 18 37 12 38 25 38-2 37 6 38 35 37 9 38 5" stroke="#B7B7B7"/>
<path d="M543 4750l47-23 47-27 47-29 47-32 47-35 47-38 47-45 47-47 47-46 47-46 47-50 47-52 47-53 47-50 47-46 47-39 47-30 47-23 47-20 47-18 47-18 47-19 47-20 47-19 47-20 47-21 47-18 47-17 47-18 47-16 47-17 47-16 47-15 47-15 47-14 47-13 47-12 47-11 47-10 47-8 19-3 19-3 18 1 19 6 19 12 19 19 19-21 18-18 19-12 19-7 19-4 19-2 56-7 56-6 57-6 56-6 57-5 56-3 56-4 57-3 56-3 57-2 56-2 56-2 38-1 19 1 19 3 18 20 19 35 19 42 19 38 19 27 18 1 19-1 19-11 19-8 19-8 18-8 19-7 19-8 19-7 19-8 18-7 19-7 19-7 19-7 19-9 18-10 19-10 19-8 19-5 19 1 18 4 19 5 19 8 19 9 19 15 18 21 19 26 19 33 19 3 19-26 18-17 19-9 19-2 19 5 37 15 38 15 38 7 37 29 38 11 37 6 38 27 38 28 37 20 38 24 37 11 38 26" stroke="#FFCD33"/>
<path d="M543 4794l47-15 47-18 47-22 47-24 47-27 47-29 47-34 47-35 47-36 47-37 47-42 47-45 47-47 47-44 47-41 47-36 47-28 47-24 47-21 47-19 47-19 47-19 47-19 47-19 47-20 47-19 47-17 47-17 47-16 47-16 47-16 47-15 47-15 47-12 47-11 47-10 47-10 47-9 47-8 47-7 19-2 19-3 18 2 19 5 19 11 19 17 19-18 18-16 19-11 19-5 19-4 19-1 56-6 56-5 57-5 56-5 57-5 56-4 56-4 57-4 56-4 57-3 56-4 56-5 38-3 19 0 19 2 18 17 19 30 19 36 19 33 19 23 18 1 19-3 19-10 19-9 19-8 18-8 19-8 19-8 19-8 19-7 18-8 19-7 19-8 19-8 19-9 18-10 19-10 19-9 19-5 19-1 18 3 19 4 19 6 19 7 19 12 18 19 19 23 19 30 19 3 19-23 18-15 19-9 19-1 19 7 37 13 38 11 38 2 37 23 38 14 37 20 38 11 38 15 37 19 38 33 37 14 38 4" stroke="#7CAFDD"/>
<path d="M543 4859l47-5 47-8 47-11 47-12 47-15 47-16 47-18 47-19 47-19 47-24 47-29 47-33 47-35 47-35 47-33 47-28 47-25 47-22 47-20 47-19 47-19 47-17 47-17 47-17 47-16 47-16 47-13 47-13 47-11 47-11 47-11 47-10 47-9 47-9 47-9 47-8 47-8 47-8 47-7 47-6 19-2 19-3 18 1 19 3 19 8 19 13 19-14 18-13 19-9 19-5 19-3 19-2 56-5 56-6 57-6 56-5 57-6 56-7 56-7 57-7 56-6 57-6 56-5 56-5 38-3 19 0 19 0 18 14 19 24 19 29 19 27 19 17 18 0 19-3 19-9 19-7 19-7 18-7 19-8 19-7 19-7 19-7 18-7 19-7 19-7 19-7 19-8 18-9 19-10 19-7 19-5 19-2 18 2 19 3 19 4 19 6 19 10 18 15 19 19 19 24 19 3 19-21 18-13 19-7 19-1 19-3 37 22 38 7 38 17 37 1 38 3 37 18 38 5 38 15 37 18 38-2 37 24 38 6" stroke="#8CC168"/>
<path d="M543 4695l47-30 47-35 47-38 47-42 47-44 47-48 47-56 47-60 47-59 47-56 47-59 47-60 47-60 47-57 47-49 47-41 47-30 47-20 47-17 47-14 47-15 47-17 47-17 47-18 47-18 47-19 47-19 47-20 47-19 47-19 47-18 47-18 47-17 47-17 47-15 47-14 47-14 47-12 47-11 47-10 19-4 19-3 18 2 19 7 19 14 19 24 19-26 18-22 19-15 19-8 19-5 19-3 56-8 56-8 57-7 56-7 57-7 56-6 56-7 57-5 56-6 57-5 56-4 56-5 38-3 19 0 19 3 18 24 19 43 19 50 19 47 19 31 18 1 19-3 19-14 19-11 19-11 18-11 19-11 19-11 19-10 19-11 18-10 19-10 19-10 19-11 19-12 18-14 19-14 19-11 19-7 19-1 18 3 19 5 19 8 19 9 19 17 18 25 19 31 19 40 19 4 19-34 18-21 19-12 19-2 19-2 37 8 38 27 38 23 37 23 38 34 37 10 38 26 38 31 37 8 38 54 37 28 38 34" stroke="#335AA1"/>
<path d="M543 4882l47-1 47-4 47-6 47-8 47-10 47-12 47-13 47-14 47-14 47-19 47-26 47-30 47-32 47-33 47-31 47-27 47-24 47-22 47-22 47-20 47-19 47-18 47-18 47-17 47-16 47-16 47-14 47-12 47-12 47-12 47-11 47-10 47-10 47-10 47-10 47-9 47-8 47-9 47-8 47-8 19-3 19-3 18 1 19 3 19 8 19 13 19-16 18-14 19-10 19-5 19-4 19-2 56-8 56-7 57-8 56-8 57-7 56-8 56-3 57-3 56-3 57-2 56-1 56-1 38 0 19 1 19 2 18 16 19 26 19 31 19 28 19 19 18 1 19-2 19-8 19-6 19-7 18-6 19-6 19-6 19-6 19-6 18-7 19-6 19-6 19-6 19-7 18-8 19-8 19-7 19-4 19 0 18 2 19 4 19 5 19 7 19 11 18 16 19 19 19 25 19 3 19-19 18-12 19-7 19-1 19 1 37 9 38 6 38 8 37 4 38 7 37 18 38 14 38 10 37-9 38 23 37 17 38 19" stroke="#BE5F1B"/>
<path d="M543 4875l47-2 47-5 47-8 47-9 47-11 47-13 47-14 47-14 47-16 47-19 47-26 47-30 47-32 47-33 47-30 47-27 47-23 47-22 47-20 47-19 47-17 47-16 47-16 47-15 47-15 47-14 47-12 47-11 47-10 47-9 47-9 47-8 47-8 47-8 47-7 47-7 47-6 47-6 47-5 47-6 19-2 19-2 18 1 19 5 19 8 19 14 19-15 18-12 19-9 19-5 19-3 19-2 56-6 56-7 57-6 56-6 57-7 56-6 56-7 57-5 56-6 57-5 56-4 56-4 38-2 19 0 19 1 18 14 19 26 19 30 19 27 19 19 18 0 19-3 19-9 19-7 19-8 18-7 19-7 19-7 19-8 19-7 18-7 19-7 19-7 19-7 19-8 18-9 19-10 19-8 19-5 19-1 18 2 19 3 19 5 19 6 19 10 18 16 19 19 19 26 19 2 19-21 18-14 19-8 19-2 19 4 37 4 38 18 38 15 37-1 38 7 37-4 38 16 38 19 37-7 38 13 37 21 38-8" stroke="#848484"/>
<path d="M543 4806l47-14 47-16 47-20 47-21 47-24 47-27 47-30 47-32 47-32 47-34 47-39 47-42 47-43 47-43 47-39 47-33 47-27 47-23 47-20 47-19 47-18 47-18 47-18 47-18 47-18 47-18 47-17 47-16 47-16 47-15 47-14 47-15 47-13 47-13 47-13 47-11 47-10 47-9 47-9 47-7 19-3 19-3 18 1 19 4 19 10 19 16 19-18 18-15 19-11 19-5 19-4 19-2 56-7 56-6 57-6 56-6 57-6 56-6 56-6 57-5 56-5 57-4 56-4 56-3 38-2 19 1 19 2 18 17 19 30 19 35 19 32 19 23 18 1 19-2 19-10 19-7 19-8 18-7 19-7 19-7 19-7 19-7 18-7 19-7 19-6 19-7 19-8 18-10 19-9 19-7 19-5 19 0 18 3 19 4 19 6 19 8 19 12 18 18 19 23 19 29 19 4 19-22 18-14 19-7 19-1 19-3 37 11 38 17 38 25 37 6 38 23 37 2 38 25 38 19 37 20 38 8 37 16 38 19" stroke="#997300"/>
<path d="M543 4770l47-18 47-21 47-24 47-27 47-28 47-31 47-36 47-37 47-37 47-37 47-41 47-44 47-44 47-42 47-39 47-32 47-24 47-20 47-16 47-15 47-14 47-15 47-15 47-15 47-16 47-18 47-19 47-18 47-17 47-18 47-16 47-17 47-16 47-15 47-15 47-14 47-14 47-12 47-12 47-11 19-4 19-4 18 1 19 6 19 11 19 20 19-23 18-20 19-14 19-8 19-5 19-4 56-9 56-10 57-10 56-7 57-6 56-6 56-6 57-5 56-5 57-4 56-5 56-3 38-3 19 1 19 2 18 22 19 38 19 45 19 41 19 28 18 1 19-3 19-12 19-10 19-9 18-10 19-9 19-9 19-9 19-10 18-9 19-9 19-9 19-9 19-10 18-13 19-12 19-10 19-7 19 0 18 3 19 5 19 7 19 9 19 15 18 22 19 28 19 36 19 4 19-29 18-19 19-10 19-2 19-3 37 23 38 20 38 3 37 22 38 2 37 28 38 15 38 18 37 27 38 19 37 39 38 22" stroke="#3A7BC8"/>
<path d="M543 4781l47-17 47-20 47-24 47-26 47-28 47-32 47-36 47-38 47-38 47-39 47-43 47-46 47-47 47-45 47-41 47-36 47-27 47-23 47-20 47-18 47-17 47-19 47-19 47-19 47-18 47-19 47-17 47-17 47-16 47-16 47-16 47-15 47-14 47-14 47-13 47-12 47-12 47-11 47-9 47-9 19-3 19-3 18 0 19 6 19 11 19 18 19-20 18-18 19-12 19-7 19-4 19-2 56-8 56-7 57-7 56-7 57-7 56-7 56-6 57-6 56-5 57-6 56-4 56-5 38-2 19-1 19 2 18 19 19 34 19 40 19 36 19 25 18 1 19-3 19-11 19-9 19-9 18-8 19-9 19-8 19-9 19-8 18-8 19-8 19-8 19-9 19-9 18-11 19-11 19-8 19-6 19 0 18 3 19 5 19 7 19 8 19 14 18 21 19 25 19 33 19 4 19-26 18-16 19-9 19-1 19 9 37 12 38 9 38 20 37 12 38 20 37 16 38 29 38 10 37 16 38 38 37 12 38 25" stroke="#5A8A39"/>
<path d="M543 4872l47-4 47-6 47-8 47-10 47-13 47-14 47-15 47-17 47-17 47-21 47-27 47-32 47-34 47-34 47-32 47-28 47-24 47-23 47-21 47-20 47-19 47-17 47-18 47-17 47-17 47-16 47-14 47-14 47-12 47-11 47-11 47-11 47-10 47-10 47-9 47-9 47-9 47-8 47-7 47-8 19-3 19-2 18 0 19 3 19 7 19 13 19-15 18-13 19-9 19-5 19-4 19-2 56-7 56-7 57-7 56-7 57-6 56-6 56-6 57-5 56-6 57-4 56-5 56-3 38-2 19 0 19 1 18 14 19 25 19 29 19 27 19 18 18 0 19-2 19-9 19-7 19-7 18-7 19-7 19-7 19-6 19-7 18-7 19-6 19-7 19-7 19-8 18-8 19-9 19-8 19-4 19-1 18 1 19 4 19 4 19 6 19 10 18 16 19 20 19 26 19 3 19-18 18-12 19-6 19 0 19-3 37 16 38 7 38 13 37 23 38 8 37 18 38 13 38-4 37 6 38 17 37 21 38-8" stroke="#8FAADC"/>
<path d="M543 4866l47-3 47-7 47-8 47-11 47-13 47-14 47-15 47-17 47-17 47-21 47-27 47-31 47-33 47-34 47-31 47-27 47-23 47-22 47-20 47-19 47-18 47-16 47-17 47-16 47-15 47-14 47-13 47-11 47-10 47-10 47-9 47-8 47-8 47-8 47-7 47-7 47-7 47-6 47-5 47-5 19-2 19-2 18 0 19 3 19 7 19 11 19-12 18-11 19-7 19-4 19-2 19-2 56-4 56-4 57-5 56-5 57-7 56-6 56-6 57-6 56-6 57-5 56-4 56-4 38-2 19-1 19 1 18 12 19 20 19 25 19 23 19 15 18 0 19-2 19-8 19-6 19-7 18-6 19-6 19-6 19-6 19-6 18-6 19-6 19-6 19-6 19-7 18-8 19-7 19-7 19-4 19-1 18 1 19 3 19 4 19 5 19 9 18 13 19 17 19 22 19 3 19-16 18-10 19-6 19 0 19 7 37 5 38 7 38 8 37 5 38 21 37 7 38-5 38 24 37 4 38 15 37 14 38 7" stroke="#F4B183"/>
<path d="M543 4831l47-9 47-11 47-14 47-17 47-18 47-19 47-23 47-23 47-24 47-26 47-32 47-34 47-36 47-35 47-32 47-28 47-22 47-20 47-18 47-16 47-15 47-15 47-15 47-14 47-14 47-13 47-14 47-14 47-12 47-11 47-11 47-11 47-10 47-10 47-9 47-9 47-8 47-8 47-7 47-6 19-3 19-2 18 1 19 4 19 9 19 15 19-16 18-14 19-10 19-5 19-3 19-2 56-6 56-5 57-6 56-6 57-5 56-6 56-5 57-5 56-5 57-4 56-3 56-3 38-2 19 0 19 1 18 16 19 27 19 32 19 29 19 20 18 0 19-2 19-9 19-8 19-7 18-7 19-7 19-8 19-7 19-7 18-7 19-7 19-7 19-7 19-8 18-9 19-10 19-7 19-5 19-1 18 2 19 4 19 5 19 6 19 11 18 17 19 20 19 26 19 3 19-21 18-13 19-8 19-2 19 17 37 8 38-11 38 18 37 9 38 6 37 21 38 21 38-1 37 20 38-4 37 23 38 12" stroke="#1F3864"/>
<path d="M543 4850l47-6 47-9 47-12 47-14 47-16 47-18 47-20 47-21 47-21 47-25 47-31 47-34 47-36 47-36 47-34 47-29 47-25 47-22 47-21 47-19 47-18 47-18 47-17 47-17 47-17 47-16 47-14 47-14 47-12 47-12 47-12 47-11 47-11 47-10 47-10 47-9 47-9 47-7 47-6 47-5 19-2 19-2 18 0 19 4 19 9 19 13 19-14 18-13 19-8 19-4 19-3 19-1 56-5 56-4 57-5 56-4 57-5 56-4 56-4 57-4 56-3 57-3 56-3 56-2 38 0 19 0 19 2 18 13 19 23 19 28 19 25 19 17 18 0 19-3 19-9 19-7 19-7 18-7 19-7 19-7 19-7 19-7 18-6 19-7 19-7 19-7 19-8 18-9 19-9 19-7 19-5 19-1 18 1 19 3 19 4 19 5 19 10 18 15 19 18 19 23 19 3 19-19 18-13 19-7 19-1 19-1 37 13 38 16 38-8 37 24 38 12 37 8 38 3 38 7 37 16 38 3 37 45 38-16" stroke="#FFD966"/>
<path d="M543 4805l47-13 47-15 47-19 47-20 47-22 47-25 47-27 47-30 47-31 47-34 47-38 47-42 47-43 47-42 47-39 47-34 47-27 47-23 47-21 47-19 47-19 47-18 47-19 47-19 47-18 47-18 47-18 47-17 47-16 47-16 47-16 47-15 47-15 47-14 47-14 47-14 47-12 47-12 47-12 47-10 19-4 19-4 18 1 19 5 19 11 19 18 19-22 18-19 19-13 19-7 19-5 19-4 56-9 56-10 57-10 56-9 57-9 56-9 56-9 57-8 56-9 57-3 56-1 56-1 38-1 19 1 19 4 18 21 19 37 19 43 19 40 19 27 18 2 19-2 19-11 19-8 19-9 18-8 19-8 19-8 19-8 19-7 18-8 19-8 19-8 19-7 19-10 18-11 19-10 19-9 19-5 19 0 18 4 19 5 19 8 19 9 19 14 18 22 19 26 19 35 19 4 19-27 18-17 19-9 19-1 19-14 37 40 38-3 38 10 37 35 38 17 37 12 38 6 38 25 37 20 38 2 37 23 38 25" stroke="#9DC3E6"/>
<path d="M543 4877l47-3 47-6 47-9 47-11 47-13 47-15 47-16 47-18 47-19 47-24 47-29 47-35 47-36 47-37 47-35 47-31 47-27 47-25 47-24 47-22 47-21 47-21 47-20 47-20 47-20 47-18 47-15 47-13 47-13 47-11 47-11 47-11 47-10 47-10 47-9 47-9 47-8 47-8 47-7 47-7 19-3 19-3 18 1 19 3 19 7 19 12 19-14 18-12 19-9 19-5 19-3 19-2 56-6 56-6 57-7 56-6 57-6 56-6 56-5 57-4 56-4 57-4 56-2 56-3 38-1 19 0 19 2 18 14 19 23 19 28 19 26 19 18 18 0 19-2 19-7 19-7 19-6 18-6 19-6 19-6 19-6 19-6 18-5 19-6 19-6 19-6 19-7 18-7 19-8 19-7 19-3 19-1 18 2 19 4 19 5 19 6 19 10 18 15 19 18 19 24 19 3 19-18 18-10 19-6 19-1 19-6 37 9 38 24 38 1 37 10 38 9 37 18 38-3 38 32 37-23 38 28 37 16 38 15" stroke="#A9D18E"/>
<path d="M543 4792l47-16 47-19 47-22 47-24 47-27 47-29 47-34 47-35 47-36 47-37 47-41 47-44 47-46 47-43 47-41 47-34 47-27 47-23 47-18 47-16 47-15 47-16 47-16 47-15 47-16 47-15 47-15 47-15 47-14 47-13 47-13 47-12 47-12 47-11 47-10 47-10 47-9 47-8 47-8 47-6 19-2 19-3 18 3 19 6 19 13 19 21 19-22 18-19 19-13 19-6 19-5 19-2 56-8 56-7 57-8 56-7 57-7 56-7 56-7 57-6 56-6 57-6 56-5 56-5 38-3 19 0 19 2 18 21 19 37 19 43 19 39 19 27 18 0 19-3 19-12 19-10 19-10 18-9 19-10 19-9 19-9 19-9 18-9 19-9 19-9 19-9 19-11 18-12 19-12 19-11 19-6 19-1 18 3 19 5 19 7 19 8 19 14 18 22 19 27 19 35 19 3 19-30 18-18 19-11 19-3 19 7 37 18 38 6 38 3 37 37 38-8 37 39 38-2 38 30 37 22 38-5 37 34 38 19" stroke="#203864"/>
<path d="M543 4809l47-12 47-17 47-19 47-21 47-24 47-26 47-30 47-32 47-32 47-34 47-39 47-42 47-44 47-42 47-39 47-34 47-27 47-23 47-21 47-19 47-18 47-18 47-19 47-18 47-18 47-17 47-16 47-15 47-14 47-14 47-13 47-13 47-12 47-12 47-11 47-10 47-10 47-9 47-8 47-7 19-3 19-3 18 2 19 6 19 12 19 19 19-20 18-18 19-12 19-6 19-3 19-3 56-6 56-6 57-6 56-6 57-5 56-6 56-5 57-5 56-5 57-4 56-4 56-3 38-2 19 1 19 2 18 20 19 35 19 40 19 38 19 25 18 1 19-2 19-12 19-9 19-8 18-9 19-9 19-8 19-9 19-8 18-8 19-9 19-8 19-9 19-9 18-12 19-11 19-10 19-6 19-2 18 2 19 4 19 6 19 8 19 13 18 20 19 25 19 32 19 3 19-28 18-18 19-11 19-3 19-2 37 18 38 12 38 9 37 12 38 23 37-2 38 19 38 33 37 9 38-2 37 43 38 9" stroke="#843C0C"/>
<path d="M543 4766l47-19 47-23 47-26 47-28 47-31 47-34 47-39 47-41 47-41 47-41 47-45 47-47 47-49 47-46 47-42 47-36 47-27 47-22 47-19 47-17 47-17 47-17 47-16 47-15 47-16 47-15 47-17 47-16 47-16 47-15 47-15 47-14 47-14 47-13 47-13 47-11 47-11 47-10 47-9 47-7 19-3 19-3 18 2 19 8 19 15 19 23 19-24 18-21 19-14 19-7 19-4 19-2 56-6 56-7 57-8 56-7 57-7 56-6 56-7 57-5 56-6 57-5 56-5 56-5 38-3 19 0 19 3 18 24 19 41 19 49 19 44 19 30 18 1 19-3 19-13 19-11 19-11 18-10 19-10 19-11 19-10 19-10 18-10 19-10 19-10 19-11 19-12 18-13 19-14 19-12 19-6 19-1 18 3 19 5 19 8 19 9 19 16 18 24 19 30 19 39 19 3 19-33 18-21 19-13 19-3 19-4 37 30 38 2 38 27 37 5 38 14 37 24 38 25 38 2 37 31 38 35 37 19 38 5" stroke="#4472C4"/>
<path d="M543 4869l47-3 47-7 47-9 47-11 47-13 47-14 47-16 47-18 47-18 47-22 47-28 47-32 47-35 47-34 47-33 47-28 47-25 47-23 47-21 47-17 47-16 47-15 47-14 47-14 47-13 47-13 47-12 47-12 47-10 47-9 47-9 47-8 47-8 47-8 47-7 47-7 47-6 47-6 47-5 47-6 19-1 19-2 18 1 19 4 19 8 19 13 19-14 18-13 19-9 19-5 19-4 19-2 56-8 56-7 57-8 56-8 57-8 56-8 56-7 57-8 56-6 57-7 56-6 56-5 38-3 19-1 19 1 18 14 19 24 19 29 19 27 19 18 18-1 19-2 19-10 19-7 19-8 18-8 19-7 19-7 19-8 19-7 18-7 19-6 19-6 19-6 19-7 18-9 19-8 19-7 19-4 19 0 18 3 19 4 19 5 19 7 19 11 18 16 19 20 19 25 19 3 19-19 18-12 19-7 19 0 19-3 37 22 38-5 38 26 37-2 38 16 37 15 38 10 38 16 37 4 38 8 37 16 38 11" stroke="#2E75B6"/>
<path d="M543 4883l47-1 47-4 47-6 47-7 47-10 47-11 47-11 47-13 47-13 47-18 47-24 47-28 47-30 47-31 47-30 47-25 47-23 47-21 47-20 47-19 47-18 47-17 47-16 47-16 47-15 47-14 47-13 47-12 47-10 47-10 47-10 47-9 47-9 47-8 47-9 47-7 47-8 47-7 47-7 47-6 19-3 19-2 18-1 19 2 19 4 19 9 19-11 18-10 19-7 19-3 19-3 19-2 56-6 56-6 57-7 56-6 57-6 56-3 56-3 57-3 56-2 57-2 56-2 56 0 38 0 19 1 19 1 18 10 19 17 19 21 19 19 19 12 18 1 19-1 19-5 19-5 19-5 18-5 19-4 19-5 19-5 19-5 18-5 19-4 19-5 19-5 19-5 18-6 19-6 19-6 19-3 19-1 18 2 19 2 19 4 19 4 19 8 18 11 19 13 19 18 19 3 19-13 18-7 19-4 19 0 19-5 37 23 38 2 38-3 37 14 38 9 37 11 38 6 38 13 37 15 38 0 37 2 38 21" stroke="#1F4E79"/>
<path d="M543 4846l47-7 47-9 47-13 47-14 47-16 47-18 47-20 47-22 47-22 47-25 47-31 47-34 47-36 47-36 47-33 47-29 47-25 47-22 47-21 47-20 47-19 47-18 47-18 47-17 47-17 47-17 47-15 47-14 47-14 47-13 47-12 47-12 47-12 47-11 47-10 47-10 47-10 47-9 47-9 47-8 19-3 19-2 18 1 19 4 19 9 19 14 19-15 18-13 19-9 19-4 19-3 19-1 56-4 56-5 57-4 56-5 57-4 56-4 56-4 57-3 56-4 57-2 56-3 56-1 38-1 19 0 19 2 18 15 19 26 19 30 19 28 19 19 18 1 19-2 19-8 19-7 19-6 18-7 19-8 19-7 19-7 19-7 18-6 19-7 19-7 19-7 19-8 18-9 19-9 19-8 19-5 19-1 18 2 19 3 19 4 19 6 19 10 18 15 19 19 19 25 19 3 19-20 18-13 19-7 19-2 19 6 37-12 38 12 38 13 37 19 38 23 37 14 38 0 38 8 37 11 38 25 37 18 38-1" stroke="#375623"/>
<path d="M543 4828l47-9 47-13 47-15 47-17 47-20 47-21 47-24 47-26 47-26 47-29 47-34 47-38 47-39 47-39 47-35 47-31 47-25 47-22 47-20 47-19 47-18 47-17 47-17 47-17 47-17 47-16 47-15 47-14 47-12 47-12 47-13 47-13 47-12 47-12 47-12 47-11 47-10 47-10 47-9 47-9 19-3 19-3 18 1 19 5 19 12 19 19 19-21 18-18 19-13 19-7 19-4 19-3 56-8 56-8 57-8 56-7 57-8 56-8 56-7 57-7 56-4 57-3 56-3 56-2 38-1 19 0 19 3 18 21 19 37 19 42 19 39 19 26 18 1 19-2 19-12 19-9 19-8 18-9 19-9 19-9 19-8 19-9 18-8 19-9 19-9 19-8 19-10 18-12 19-12 19-10 19-6 19 0 18 2 19 5 19 7 19 8 19 14 18 21 19 26 19 34 19 3 19-28 18-19 19-10 19-3 19-6 37 18 38 6 38 17 37 9 38 16 37 15 38 3 38 23 37 19 38-2 37 34 38-14" stroke="#4472C4"/>
<path d="M543 4687l47-31 47-34 47-38 47-41 47-43 47-47 47-54 47-57 47-56 47-52 47-56 47-56 47-56 47-52 47-46 47-38 47-28 47-19 47-14 47-13 47-13 47-15 47-15 47-16 47-16 47-17 47-20 47-20 47-20 47-20 47-19 47-19 47-18 47-17 47-17 47-15 47-14 47-13 47-12 47-10 19-4 19-4 18 3 19 9 19 18 19 29 19-30 18-26 19-17 19-9 19-5 19-3 56-9 56-8 57-7 56-8 57-7 56-6 56-6 57-6 56-6 57-5 56-5 56-5 38-3 19-1 19 3 18 29 19 51 19 59 19 54 19 37 18 1 19-4 19-16 19-13 19-13 18-12 19-13 19-12 19-13 19-12 18-12 19-12 19-12 19-12 19-15 18-17 19-16 19-14 19-8 19-1 18 3 19 6 19 9 19 10 19 19 18 29 19 36 19 46 19 4 19-41 18-27 19-16 19-4 19 4 37 5 38 11 38 31 37 29 38 33 37-3 38 42 38 13 37 55 38 1 37 48 38 24" stroke="#ED7D31"/>
<path d="M543 4702l47-30 47-34 47-37 47-40 47-43 47-47 47-55 47-58 47-57 47-55 47-58 47-59 47-59 47-56 47-50 47-42 47-32 47-23 47-19 47-17 47-17 47-19 47-19 47-21 47-20 47-22 47-21 47-21 47-22 47-21 47-20 47-20 47-20 47-19 47-18 47-16 47-16 47-14 47-13 47-12 19-4 19-4 18 2 19 8 19 17 19 27 19-29 18-25 19-18 19-9 19-5 19-3 56-10 56-9 57-9 56-8 57-6 56-5 56-5 57-5 56-4 57-4 56-4 56-3 38-3 19 1 19 3 18 29 19 48 19 57 19 53 19 36 18 2 19-3 19-15 19-12 19-11 18-11 19-11 19-11 19-11 19-11 18-10 19-11 19-11 19-10 19-13 18-15 19-14 19-12 19-7 19 0 18 4 19 7 19 9 19 11 19 18 18 28 19 35 19 44 19 5 19-38 18-24 19-13 19-3 19 9 37 14 38 14 38 6 37 24 38 32 37 22 38 42 38 25 37 35 38 26 37 24 38 35" stroke="#A5A5A5"/>
<path d="M543 4727l47-26 47-29 47-33 47-36 47-39 47-42 47-49 47-53 47-52 47-50 47-54 47-56 47-57 47-53 47-49 47-41 47-31 47-24 47-20 47-18 47-18 47-20 47-20 47-20 47-21 47-22 47-20 47-19 47-20 47-19 47-20 47-19 47-18 47-18 47-17 47-16 47-15 47-14 47-12 47-11 19-4 19-4 18 1 19 6 19 13 19 21 19-24 18-21 19-15 19-8 19-5 19-3 56-10 56-9 57-8 56-9 57-8 56-8 56-7 57-7 56-5 57-5 56-4 56-5 38-3 19 0 19 3 18 23 19 40 19 48 19 44 19 30 18 1 19-3 19-13 19-10 19-9 18-10 19-10 19-9 19-9 19-10 18-9 19-9 19-9 19-9 19-11 18-12 19-13 19-10 19-6 19 0 18 4 19 5 19 8 19 10 19 16 18 24 19 29 19 39 19 4 19-30 18-19 19-11 19-1 19 16 37 5 38 14 38 7 37 33 38 28 37 27 38 12 38 30 37 28 38 30 37 40 38 20" stroke="#FFC000"/>
<path d="M543 4865l47-3 47-6 47-8 47-10 47-11 47-13 47-14 47-15 47-15 47-19 47-25 47-28 47-30 47-30 47-29 47-24 47-20 47-19 47-18 47-17 47-15 47-15 47-14 47-13 47-13 47-12 47-12 47-11 47-10 47-9 47-9 47-9 47-8 47-7 47-7 47-7 47-7 47-6 47-6 47-6 19-2 19-2 18 1 19 2 19 7 19 11 19-12 18-11 19-8 19-4 19-3 19-1 56-5 56-5 57-5 56-6 57-5 56-5 56-5 57-5 56-5 57-4 56-3 56-3 38-2 19-1 19 1 18 12 19 20 19 24 19 23 19 15 18 0 19-3 19-7 19-7 19-6 18-6 19-6 19-6 19-6 19-6 18-6 19-6 19-6 19-6 19-7 18-8 19-8 19-7 19-4 19-1 18 1 19 3 19 4 19 5 19 8 18 13 19 17 19 21 19 2 19-17 18-10 19-6 19-2 19-1 37 14 38 0 38 9 37 21 38-4 37-4 38 24 38 11 37 9 38-5 37 22 38 8" stroke="#5B9BD5"/>
<path d="M543 4761l47-20 47-24 47-27 47-30 47-32 47-36 47-40 47-44 47-43 47-43 47-47 47-50 47-50 47-48 47-44 47-37 47-29 47-23 47-19 47-18 47-17 47-20 47-20 47-20 47-20 47-20 47-18 47-18 47-17 47-17 47-17 47-16 47-15 47-15 47-15 47-13 47-12 47-12 47-10 47-9 19-4 19-3 18 2 19 7 19 14 19 23 19-25 18-21 19-14 19-8 19-4 19-3 56-7 56-7 57-7 56-6 57-6 56-6 56-6 57-5 56-5 57-5 56-4 56-4 38-2 19 0 19 3 18 23 19 41 19 48 19 45 19 30 18 1 19-3 19-13 19-10 19-10 18-10 19-10 19-10 19-10 19-9 18-10 19-9 19-10 19-10 19-11 18-14 19-13 19-12 19-8 19-1 18 2 19 5 19 7 19 8 19 15 18 24 19 29 19 37 19 3 19-33 18-21 19-13 19-3 19-6 37 8 38 27 38 19 37 1 38 19 37 23 38 16 38 27 37 25 38 22 37 31 38 19" stroke="#70AD47"/>
<path d="M543 4786l47-15 47-19 47-22 47-24 47-26 47-28 47-33 47-34 47-34 47-35 47-39 47-42 47-43 47-42 47-37 47-32 47-25 47-20 47-17 47-16 47-14 47-15 47-15 47-15 47-14 47-14 47-16 47-15 47-15 47-14 47-13 47-13 47-13 47-12 47-11 47-10 47-10 47-9 47-9 47-7 19-3 19-3 18 1 19 5 19 11 19 17 19-19 18-16 19-11 19-6 19-4 19-2 56-8 56-8 57-7 56-8 57-7 56-7 56-7 57-6 56-7 57-5 56-6 56-4 38-3 19-1 19 2 18 17 19 32 19 36 19 35 19 23 18 0 19-3 19-11 19-8 19-9 18-8 19-8 19-9 19-8 19-8 18-8 19-8 19-8 19-8 19-10 18-10 19-11 19-9 19-5 19-1 18 2 19 4 19 6 19 8 19 12 18 19 19 24 19 30 19 4 19-25 18-16 19-9 19-1 19 13 37-1 38 13 38 17 37 7 38 15 37 23 38 16 38 11 37 24 38 1 37 44 38 17" stroke="#264478"/>
<path d="M543 4886l47 0 47-4 47-5 47-7 47-9 47-10 47-11 47-11 47-12 47-17 47-24 47-27 47-30 47-30 47-30 47-27 47-24 47-23 47-22 47-21 47-19 47-18 47-18 47-17 47-16 47-16 47-13 47-12 47-11 47-11 47-10 47-9 47-9 47-9 47-8 47-9 47-7 47-8 47-6 47-6 19-3 19-2 18 0 19 3 19 7 19 12 19-14 18-11 19-8 19-5 19-3 19-1 56-6 56-5 57-6 56-6 57-6 56-6 56-6 57-5 56-5 57-5 56-4 56-3 38-2 19 0 19 1 18 13 19 22 19 26 19 24 19 17 18 0 19-2 19-8 19-6 19-6 18-6 19-6 19-6 19-6 19-6 18-5 19-6 19-6 19-6 19-7 18-8 19-7 19-7 19-4 19 0 18 1 19 3 19 5 19 6 19 9 18 14 19 17 19 23 19 2 19-17 18-11 19-6 19-1 19 0 37 11 38 0 38 8 37 15 38 14 37-7 38 24 38 8 37 4 38 13 37 19 38-7" stroke="#9E480E"/>
<path d="M543 4759l47-19 47-23 47-26 47-29 47-31 47-33 47-39 47-41 47-40 47-40 47-43 47-47 47-46 47-45 47-40 47-33 47-26 47-21 47-17 47-16 47-15 47-16 47-16 47-17 47-16 47-16 47-18 47-17 47-17 47-16 47-16 47-15 47-15 47-15 47-13 47-13 47-12 47-11 47-11 47-9 19-3 19-3 18 2 19 7 19 14 19 22 19-23 18-21 19-14 19-7 19-5 19-2 56-7 56-7 57-7 56-6 57-7 56-6 56-5 57-6 56-5 57-5 56-4 56-4 38-2 19 0 19 2 18 24 19 40 19 48 19 43 19 30 18 1 19-3 19-13 19-11 19-10 18-9 19-10 19-10 19-9 19-10 18-9 19-10 19-9 19-9 19-12 18-13 19-12 19-11 19-7 19 0 18 3 19 6 19 7 19 9 19 16 18 24 19 29 19 38 19 3 19-31 18-21 19-11 19-3 19-4 37 21 38 9 38 18 37 9 38 26 37 17 38 27 38 33 37 4 38 17 37 35 38 15" stroke="#636363"/>
<path d="M543 4767l47-20 47-23 47-27 47-29 47-32 47-35 47-40 47-43 47-42 47-43 47-47 47-50 47-50 47-49 47-44 47-38 47-29 47-24 47-20 47-19 47-18 47-19 47-19 47-19 47-18 47-19 47-17 47-16 47-15 47-16 47-14 47-14 47-14 47-13 47-12 47-12 47-10 47-9 47-9 47-7 19-3 19-2 18 1 19 5 19 10 19 17 19-18 18-15 19-11 19-5 19-3 19-2 56-6 56-9 57-10 56-8 57-9 56-8 56-8 57-8 56-8 57-7 56-6 56-7 38-4 19-1 19 1 18 17 19 30 19 36 19 33 19 23 18 0 19-3 19-11 19-8 19-9 18-8 19-8 19-9 19-8 19-8 18-8 19-8 19-8 19-8 19-9 18-10 19-11 19-8 19-5 19 0 18 3 19 5 19 6 19 8 19 13 18 20 19 23 19 31 19 5 19-23 18-14 19-8 19 0 19 4 37 21 38 10 38 6 37 38 38 16 37 18 38 27 38 11 37 17 38 34 37 6 38 38" stroke="#C55A11"/>
<path d="M543 4743l47-23 47-26 47-30 47-32 47-34 47-38 47-44 47-46 47-46 47-45 47-48 47-51 47-51 47-48 47-44 47-37 47-28 47-21 47-19 47-17 47-17 47-19 47-19 47-19 47-19 47-19 47-19 47-19 47-18 47-17 47-18 47-17 47-16 47-16 47-15 47-14 47-13 47-12 47-11 47-9 19-4 19-3 18 1 19 5 19 10 19 19 19-21 18-18 19-13 19-7 19-4 19-3 56-8 56-8 57-8 56-7 57-8 56-7 56-6 57-6 56-6 57-6 56-5 56-5 38-3 19-1 19 2 18 20 19 34 19 40 19 37 19 26 18 0 19-2 19-12 19-9 19-8 18-9 19-8 19-9 19-8 19-8 18-8 19-8 19-8 19-8 19-9 18-11 19-11 19-8 19-6 19 0 18 3 19 5 19 7 19 9 19 14 18 21 19 26 19 33 19 4 19-25 18-16 19-9 19 0 19-5 37 21 38 18 38 19 37 11 38 24 37 21 38 20 38 32 37 26 38 16 37 24 38 29" stroke="#255E91"/>
<path d="M543 4864l47-4 47-7 47-10 47-11 47-14 47-14 47-17 47-18 47-18 47-22 47-28 47-32 47-35 47-35 47-33 47-29 47-26 47-23 47-22 47-20 47-20 47-18 47-19 47-17 47-18 47-17 47-14 47-13 47-12 47-11 47-11 47-11 47-10 47-10 47-9 47-9 47-9 47-8 47-8 47-7 19-3 19-3 18 1 19 4 19 8 19 15 19-17 18-14 19-10 19-6 19-3 19-3 56-6 56-7 57-7 56-7 57-7 56-7 56-7 57-6 56-6 57-5 56-5 56-5 38-2 19 0 19 1 18 15 19 28 19 33 19 30 19 20 18 0 19-3 19-10 19-8 19-8 18-7 19-8 19-8 19-7 19-8 18-8 19-7 19-8 19-7 19-9 18-10 19-10 19-9 19-5 19-2 18 2 19 3 19 5 19 6 19 12 18 16 19 21 19 27 19 3 19-23 18-15 19-9 19-2 19-2 37 27 38-3 38 5 37 25 38-1 37 13 38 0 38 28 37 4 38 11 37 15 38 16" stroke="#43682B"/>
<path d="M543 4865l47-4 47-7 47-9 47-11 47-12 47-15 47-16 47-16 47-18 47-21 47-27 47-31 47-33 47-33 47-30 47-26 47-23 47-20 47-20 47-18 47-17 47-16 47-15 47-15 47-15 47-13 47-13 47-12 47-11 47-10 47-9 47-9 47-9 47-8 47-7 47-8 47-7 47-8 47-7 47-8 19-2 19-3 18 0 19 3 19 7 19 12 19-14 18-13 19-9 19-5 19-3 19-2 56-7 56-7 57-7 56-7 57-7 56-7 56-7 57-6 56-6 57-6 56-5 56-4 38-3 19 0 19 1 18 13 19 24 19 28 19 27 19 17 18 0 19-2 19-9 19-7 19-6 18-7 19-7 19-7 19-6 19-7 18-6 19-7 19-6 19-7 19-8 18-8 19-9 19-7 19-5 19-1 18 2 19 3 19 4 19 6 19 10 18 15 19 18 19 24 19 3 19-19 18-13 19-7 19-1 19-15 37 11 38 29 38 13 37-12 38 21 37 16 38-11 38 10 37 35 38-1 37 18 38 10" stroke="#698ED0"/>
<path d="M543 4808l47-12 47-15 47-17 47-20 47-21 47-24 47-26 47-28 47-27 47-30 47-34 47-37 47-38 47-36 47-34 47-29 47-22 47-19 47-19 47-17 47-17 47-16 47-16 47-16 47-15 47-16 47-16 47-16 47-14 47-15 47-13 47-14 47-13 47-12 47-12 47-12 47-11 47-10 47-9 47-9 19-4 19-3 18 0 19 5 19 9 19 17 19-18 18-16 19-11 19-6 19-3 19-2 56-7 56-6 57-7 56-6 57-6 56-6 56-6 57-6 56-5 57-5 56-4 56-4 38-2 19 0 19 2 18 17 19 30 19 36 19 32 19 22 18 1 19-3 19-10 19-8 19-8 18-8 19-7 19-8 19-7 19-8 18-7 19-7 19-7 19-8 19-8 18-10 19-10 19-8 19-5 19-1 18 3 19 4 19 6 19 8 19 12 18 18 19 23 19 29 19 4 19-23 18-15 19-8 19-1 19 7 37 13 38 4 38 16 37 21 38-2 37 19 38 10 38 19 37 22 38 15 37 17 38 31" stroke="#F1975A"/>
<path d="M543 4732l47-24 47-29 47-32 47-34 47-37 47-39 47-46 47-48 47-48 47-46 47-49 47-52 47-51 47-49 47-43 47-37 47-27 47-21 47-17 47-15 47-15 47-16 47-16 47-17 47-17 47-17 47-18 47-17 47-19 47-19 47-19 47-18 47-17 47-17 47-16 47-16 47-14 47-13 47-12 47-11 19-4 19-4 18 2 19 8 19 16 19 25 19-27 18-25 19-17 19-8 19-6 19-3 56-10 56-9 57-9 56-9 57-8 56-8 56-6 57-5 56-4 57-5 56-4 56-4 38-2 19 0 19 3 18 28 19 47 19 56 19 50 19 35 18 1 19-3 19-15 19-11 19-12 18-11 19-11 19-11 19-11 19-11 18-11 19-11 19-10 19-11 19-13 18-15 19-15 19-13 19-7 19-1 18 4 19 6 19 9 19 10 19 18 18 27 19 33 19 44 19 4 19-38 18-24 19-14 19-3 19 7 37 21 38 3 38 24 37 16 38 11 37 12 38 35 38 22 37 32 38 37 37 5 38 35" stroke="#B7B7B7"/>
<path d="M543 4755l47-21 47-26 47-29 47-32 47-35 47-38 47-43 47-47 47-47 47-47 47-50 47-54 47-53 47-52 47-47 47-40 47-31 47-25 47-21 47-20 47-19 47-21 47-21 47-22 47-21 47-22 47-20 47-19 47-19 47-19 47-18 47-18 47-17 47-17 47-16 47-15 47-14 47-13 47-11 47-11 19-3 19-4 18 2 19 7 19 15 19 24 19-26 18-23 19-16 19-8 19-5 19-3 56-9 56-7 57-6 56-7 57-6 56-5 56-6 57-5 56-5 57-4 56-4 56-4 38-2 19 0 19 3 18 25 19 45 19 51 19 48 19 33 18 1 19-3 19-14 19-11 19-10 18-11 19-10 19-11 19-10 19-10 18-10 19-10 19-10 19-10 19-12 18-14 19-14 19-12 19-7 19-1 18 3 19 6 19 7 19 10 19 16 18 26 19 31 19 41 19 3 19-34 18-23 19-13 19-3 19 8 37-2 38 37 38 10 37 7 38 36 37 8 38 20 38 38 37 10 38 40 37 14 38 35" stroke="#FFCD33"/>
<path d="M543 4746l47-22 47-26 47-29 47-32 47-34 47-37 47-43 47-43 47-43 47-41 47-45 47-48 47-47 47-45 47-40 47-33 47-25 47-18 47-15 47-14 47-13 47-14 47-15 47-14 47-15 47-14 47-16 47-16 47-15 47-15 47-15 47-17 47-16 47-16 47-15 47-14 47-14 47-12 47-12 47-10 19-4 19-4 18 1 19 7 19 14 19 23 19-25 18-23 19-15 19-8 19-6 19-3 56-9 56-10 57-9 56-9 57-8 56-9 56-8 57-7 56-7 57-5 56-5 56-4 38-3 19 0 19 3 18 24 19 44 19 50 19 47 19 31 18 1 19-3 19-14 19-11 19-11 18-11 19-10 19-11 19-10 19-11 18-10 19-11 19-10 19-11 19-12 18-14 19-14 19-12 19-7 19-1 18 3 19 5 19 8 19 9 19 17 18 24 19 31 19 40 19 4 19-35 18-22 19-13 19-4 19 4 37 12 38 23 38 12 37 13 38 20 37 17 38 14 38 41 37 24 38 16 37 16 38 41" stroke="#7CAFDD"/>
<path d="M543 4701l47-29 47-34 47-37 47-41 47-43 47-47 47-54 47-58 47-57 47-54 47-57 47-59 47-58 47-55 47-50 47-41 47-31 47-22 47-18 47-16 47-17 47-18 47-19 47-19 47-20 47-20 47-21 47-21 47-21 47-21 47-20 47-18 47-17 47-17 47-15 47-14 47-14 47-11 47-11 47-9 19-3 19-3 18 4 19 10 19 19 19 30 19-30 18-26 19-17 19-8 19-5 19-2 56-7 56-6 57-6 56-5 57-5 56-5 56-4 57-4 56-4 57-6 56-5 56-5 38-3 19 0 19 3 18 30 19 51 19 59 19 55 19 38 18 1 19-3 19-17 19-12 19-13 18-12 19-12 19-13 19-12 19-12 18-11 19-12 19-12 19-12 19-14 18-17 19-16 19-14 19-8 19-1 18 4 19 7 19 8 19 11 19 19 18 29 19 36 19 47 19 4 19-41 18-26 19-16 19-3 19 13 37 6 38 8 38 21 37 31 38 24 37 39 38 18 38 14 37 35 38 35 37 10 38 32" stroke="#8CC168"/>
<path d="M543 4820l47-12 47-14 47-18 47-19 47-22 47-25 47-28 47-29 47-30 47-32 47-37 47-41 47-42 47-41 47-39 47-33 47-27 47-23 47-21 47-19 47-19 47-18 47-19 47-18 47-17 47-17 47-16 47-15 47-14 47-14 47-13 47-13 47-12 47-12 47-11 47-11 47-10 47-9 47-9 47-7 19-3 19-3 18 1 19 5 19 11 19 18 19-20 18-16 19-12 19-6 19-4 19-2 56-6 56-7 57-8 56-8 57-8 56-8 56-7 57-7 56-7 57-6 56-6 56-5 38-4 19 0 19 1 18 19 19 32 19 38 19 36 19 24 18 0 19-3 19-12 19-9 19-9 18-9 19-9 19-9 19-9 19-8 18-9 19-9 19-8 19-9 19-10 18-12 19-12 19-9 19-7 19-1 18 3 19 5 19 6 19 8 19 14 18 20 19 25 19 32 19 4 19-26 18-16 19-10 19-1 19 0 37 22 38 2 38 14 37 15 38-2 37 37 38 9 38 18 37 30 38 21 37 9 38 37" stroke="#335AA1"/>
<path d="M543 4837l47-9 47-11 47-15 47-16 47-19 47-21 47-23 47-25 47-25 47-29 47-33 47-38 47-39 47-38 47-36 47-31 47-25 47-23 47-21 47-19 47-18 47-19 47-18 47-18 47-18 47-17 47-15 47-14 47-14 47-12 47-13 47-12 47-11 47-11 47-10 47-10 47-9 47-9 47-8 47-7 19-3 19-3 18 0 19 4 19 7 19 13 19-15 18-13 19-9 19-5 19-4 19-2 56-6 56-7 57-7 56-6 57-7 56-6 56-6 57-6 56-6 57-5 56-4 56-4 38-3 19 0 19 1 18 14 19 25 19 29 19 27 19 19 18 0 19-2 19-9 19-7 19-7 18-7 19-6 19-7 19-7 19-6 18-7 19-6 19-7 19-6 19-8 18-8 19-8 19-6 19-4 19 0 18 2 19 4 19 6 19 7 19 11 18 16 19 20 19 25 19 4 19-19 18-11 19-6 19 0 19-9 37 30 38-1 38 22 37 2 38 22 37 19 38 5 38 15 37 22 38 19 37 13 38 15" stroke="#BE5F1B"/>
<path d="M543 4755l47-21 47-25 47-29 47-31 47-33 47-37 47-42 47-45 47-44 47-44 47-48 47-51 47-51 47-49 47-44 47-38 47-29 47-23 47-19 47-18 47-17 47-19 47-19 47-19 47-20 47-21 47-19 47-20 47-18 47-19 47-18 47-18 47-17 47-16 47-16 47-15 47-14 47-13 47-12 47-11 19-3 19-4 18 2 19 7 19 16 19 25 19-27 18-24 19-17 19-8 19-6 19-3 56-9 56-9 57-8 56-5 57-5 56-4 56-4 57-4 56-4 57-3 56-3 56-2 38-2 19 1 19 4 18 27 19 46 19 54 19 49 19 34 18 2 19-3 19-14 19-11 19-11 18-10 19-11 19-10 19-11 19-10 18-10 19-10 19-10 19-11 19-12 18-14 19-14 19-12 19-7 19 0 18 4 19 6 19 9 19 9 19 18 18 25 19 33 19 41 19 4 19-36 18-23 19-14 19-3 19 15 37-9 38 22 38 25 37 11 38 16 37 26 38 18 38 20 37 41 38 1 37 58 38 7" stroke="#848484"/>
<path d="M543 4750l47-22 47-26 47-29 47-32 47-34 47-37 47-43 47-46 47-45 47-45 47-48 47-51 47-53 47-50 47-46 47-39 47-30 47-24 47-20 47-19 47-18 47-19 47-20 47-21 47-20 47-20 47-20 47-19 47-18 47-18 47-18 47-18 47-17 47-16 47-15 47-15 47-12 47-11 47-10 47-8 19-3 19-3 18 2 19 8 19 15 19 25 19-25 18-22 19-15 19-8 19-4 19-2 56-7 56-7 57-6 56-6 57-5 56-6 56-5 57-5 56-4 57-4 56-4 56-3 38-2 19 0 19 3 18 25 19 43 19 51 19 47 19 32 18 1 19-3 19-14 19-11 19-11 18-10 19-10 19-11 19-10 19-10 18-10 19-11 19-10 19-10 19-12 18-14 19-14 19-11 19-7 19-1 18 4 19 5 19 8 19 10 19 16 18 25 19 31 19 41 19 4 19-35 18-21 19-13 19-3 19-11 37 37 38 4 38 22 37 6 38 37 37 15 38 13 38 35 37 18 38 28 37 26 38 35" stroke="#997300"/>
<path d="M543 4706l47-28 47-32 47-35 47-39 47-40 47-45 47-51 47-55 47-53 47-51 47-54 47-56 47-56 47-52 47-47 47-39 47-29 47-21 47-17 47-15 47-15 47-16 47-18 47-17 47-19 47-18 47-20 47-20 47-20 47-19 47-18 47-17 47-17 47-16 47-15 47-15 47-13 47-12 47-10 47-9 19-3 19-3 18 3 19 10 19 18 19 30 19-30 18-25 19-18 19-8 19-5 19-3 56-7 56-7 57-6 56-6 57-6 56-5 56-5 57-5 56-6 57-5 56-5 56-5 38-3 19 0 19 4 18 29 19 52 19 60 19 55 19 37 18 2 19-4 19-16 19-13 19-12 18-13 19-12 19-12 19-13 19-12 18-12 19-12 19-12 19-12 19-14 18-17 19-16 19-14 19-8 19-1 18 3 19 7 19 9 19 10 19 20 18 29 19 36 19 47 19 3 19-41 18-27 19-16 19-4 19 0 37 27 38 23 38 6 37 29 38 13 37 15 38 24 38 29 37 24 38 37 37 29 38 31" stroke="#3A7BC8"/>
<path d="M543 4834l47-8 47-10 47-13 47-15 47-18 47-19 47-23 47-23 47-24 47-27 47-32 47-36 47-38 47-37 47-34 47-30 47-24 47-22 47-19 47-19 47-17 47-17 47-17 47-17 47-16 47-15 47-16 47-14 47-14 47-14 47-14 47-13 47-13 47-12 47-12 47-11 47-11 47-10 47-10 47-9 19-4 19-3 18-1 19 4 19 7 19 14 19-17 18-15 19-11 19-6 19-4 19-3 56-8 56-9 57-9 56-9 57-8 56-9 56-6 57-6 56-4 57-5 56-4 56-3 38-2 19 0 19 2 18 15 19 28 19 32 19 30 19 20 18 1 19-2 19-10 19-7 19-7 18-7 19-7 19-8 19-7 19-6 18-7 19-7 19-7 19-7 19-8 18-9 19-9 19-8 19-5 19 0 18 2 19 4 19 5 19 7 19 11 18 17 19 21 19 27 19 3 19-21 18-13 19-8 19-1 19 3 37 17 38 10 38-1 37 17 38 9 37 13 38 15 38 13 37 20 38 16 37 18 38 14" stroke="#5A8A39"/>
<path d="M543 4722l47-26 47-30 47-34 47-37 47-39 47-43 47-49 47-53 47-52 47-51 47-54 47-57 47-57 47-54 47-48 47-42 47-31 47-24 47-20 47-17 47-18 47-20 47-20 47-21 47-21 47-21 47-20 47-20 47-21 47-19 47-20 47-19 47-18 47-18 47-16 47-16 47-14 47-14 47-12 47-10 19-4 19-3 18 2 19 8 19 16 19 26 19-28 18-24 19-17 19-8 19-5 19-3 56-9 56-8 57-8 56-8 57-7 56-7 56-7 57-6 56-6 57-6 56-5 56-4 38-2 19 1 19 3 18 28 19 47 19 55 19 52 19 34 18 2 19-3 19-14 19-11 19-12 18-10 19-11 19-11 19-11 19-10 18-10 19-11 19-10 19-11 19-12 18-15 19-14 19-12 19-7 19 0 18 4 19 7 19 9 19 10 19 19 18 27 19 33 19 44 19 5 19-37 18-23 19-13 19-2 19 12 37 14 38 6 38 27 37 14 38 31 37 18 38 37 38 25 37 24 38 29 37 35 38 27" stroke="#8FAADC"/>
<path d="M543 4856l47-5 47-8 47-10 47-12 47-14 47-15 47-17 47-17 47-18 47-22 47-28 47-31 47-33 47-33 47-30 47-27 47-22 47-20 47-19 47-18 47-16 47-16 47-15 47-15 47-15 47-13 47-14 47-13 47-11 47-11 47-11 47-10 47-10 47-9 47-9 47-8 47-8 47-8 47-7 47-6 19-3 19-3 18 0 19 2 19 6 19 10 19-12 18-11 19-8 19-4 19-3 19-2 56-6 56-6 57-6 56-7 57-6 56-6 56-6 57-6 56-5 57-5 56-3 56-3 38-1 19-1 19 2 18 11 19 19 19 24 19 21 19 15 18 0 19-2 19-7 19-5 19-6 18-5 19-6 19-5 19-5 19-5 18-6 19-5 19-5 19-5 19-6 18-7 19-7 19-5 19-4 19 0 18 1 19 3 19 5 19 5 19 9 18 13 19 16 19 20 19 3 19-15 18-8 19-5 19 0 19 10 37 2 38 11 38 16 37-5 38 6 37 13 38 23 38 1 37 0 38 23 37 5 38 17" stroke="#F4B183"/>
<path d="M543 4835l47-10 47-13 47-16 47-18 47-20 47-23 47-26 47-28 47-28 47-31 47-37 47-41 47-42 47-42 47-38 47-34 47-29 47-25 47-23 47-22 47-21 47-21 47-21 47-21 47-21 47-20 47-16 47-16 47-15 47-14 47-14 47-14 47-13 47-13 47-12 47-11 47-11 47-10 47-9 47-9 19-3 19-3 18 0 19 5 19 11 19 18 19-19 18-16 19-11 19-5 19-3 19-2 56-5 56-5 57-5 56-5 57-5 56-4 56-5 57-4 56-3 57-4 56-2 56-2 38-2 19 1 19 2 18 19 19 32 19 37 19 34 19 23 18 2 19-3 19-10 19-8 19-7 18-8 19-7 19-8 19-8 19-8 18-8 19-8 19-8 19-8 19-9 18-10 19-11 19-9 19-5 19-1 18 2 19 5 19 5 19 8 19 12 18 19 19 23 19 30 19 3 19-25 18-15 19-9 19-2 19 4 37 13 38 13 38 9 37 0 38 31 37 5 38 24 38 5 37 27 38 16 37 11 38 17" stroke="#1F3864"/>
<path d="M543 4774l47-17 47-21 47-24 47-26 47-28 47-31 47-35 47-37 47-37 47-37 47-41 47-44 47-44 47-43 47-39 47-32 47-25 47-20 47-17 47-15 47-15 47-16 47-15 47-16 47-15 47-15 47-17 47-17 47-16 47-15 47-16 47-14 47-14 47-14 47-13 47-12 47-11 47-11 47-10 47-9 19-3 19-3 18 2 19 6 19 15 19 22 19-22 18-20 19-13 19-6 19-4 19-2 56-5 56-5 57-4 56-5 57-4 56-4 56-4 57-4 56-3 57-3 56-2 56-2 38-1 19 0 19 4 18 23 19 39 19 46 19 42 19 29 18 1 19-2 19-12 19-10 19-9 18-9 19-9 19-10 19-10 19-10 18-10 19-9 19-10 19-10 19-12 18-13 19-14 19-11 19-7 19-1 18 2 19 4 19 7 19 8 19 14 18 22 19 28 19 35 19 3 19-32 18-20 19-13 19-3 19 9 37 1 38 20 38 3 37 17 38 13 37 25 38-1 38 20 37 24 38 35 37 10 38 13" stroke="#FFD966"/>
<path d="M543 4793l47-14 47-19 47-21 47-23 47-25 47-28 47-32 47-34 47-34 47-35 47-40 47-42 47-43 47-42 47-39 47-32 47-26 47-22 47-18 47-17 47-17 47-17 47-17 47-17 47-18 47-18 47-17 47-16 47-15 47-15 47-15 47-14 47-14 47-13 47-12 47-12 47-11 47-10 47-9 47-9 19-3 19-3 18 1 19 5 19 11 19 19 19-21 18-17 19-13 19-6 19-4 19-3 56-7 56-8 57-6 56-6 57-6 56-6 56-5 57-5 56-5 57-4 56-4 56-3 38-3 19 1 19 2 18 19 19 34 19 40 19 37 19 25 18 1 19-2 19-12 19-8 19-9 18-8 19-9 19-8 19-8 19-9 18-8 19-8 19-8 19-8 19-10 18-11 19-11 19-9 19-5 19-1 18 3 19 5 19 6 19 8 19 14 18 20 19 25 19 33 19 3 19-26 18-16 19-10 19-1 19 4 37 2 38 16 38 2 37 40 38 12 37 15 38 7 38 29 37 13 38 1 37 50 38 20" stroke="#9DC3E6"/>
<path d="M543 4782l47-17 47-21 47-24 47-27 47-29 47-32 47-37 47-40 47-39 47-40 47-45 47-48 47-49 47-47 47-43 47-37 47-29 47-24 47-21 47-19 47-19 47-20 47-20 47-20 47-20 47-20 47-18 47-17 47-17 47-17 47-15 47-16 47-14 47-14 47-13 47-13 47-12 47-10 47-10 47-9 19-3 19-3 18 1 19 4 19 10 19 16 19-18 18-16 19-12 19-6 19-3 19-3 56-7 56-7 57-7 56-7 57-6 56-6 56-6 57-6 56-4 57-4 56-4 56-4 38-2 19 0 19 2 18 18 19 31 19 36 19 34 19 23 18 1 19-2 19-10 19-8 19-8 18-7 19-8 19-7 19-7 19-7 18-7 19-7 19-7 19-7 19-9 18-9 19-10 19-7 19-5 19 0 18 3 19 5 19 6 19 8 19 13 18 19 19 23 19 30 19 4 19-22 18-14 19-7 19 0 19 7 37 20 38-12 38 33 37 19 38 17 37 26 38 14 38 4 37 36 38 19 37 25 38 12" stroke="#A9D18E"/>
<path d="M543 4817l47-12 47-15 47-18 47-20 47-22 47-25 47-28 47-30 47-30 47-33 47-37 47-41 47-42 47-42 47-38 47-33 47-27 47-23 47-21 47-19 47-19 47-19 47-18 47-19 47-18 47-18 47-16 47-15 47-14 47-14 47-14 47-13 47-12 47-12 47-11 47-11 47-11 47-10 47-8 47-9 19-3 19-3 18 1 19 6 19 11 19 19 19-21 18-17 19-12 19-7 19-4 19-2 56-7 56-7 57-7 56-7 57-7 56-6 56-7 57-6 56-5 57-6 56-4 56-5 38-2 19 0 19 2 18 20 19 34 19 40 19 37 19 25 18 0 19-2 19-12 19-9 19-9 18-8 19-9 19-9 19-8 19-9 18-8 19-9 19-8 19-9 19-10 18-12 19-11 19-10 19-6 19 0 18 2 19 4 19 7 19 7 19 14 18 20 19 25 19 32 19 4 19-28 18-17 19-10 19-3 19 2 37 2 38 22 38 30 37-11 38 20 37 11 38 25 38 16 37 15 38 10 37 21 38 20" stroke="#203864"/>
<path d="M543 4833l47-9 47-11 47-14 47-16 47-18 47-20 47-23 47-24 47-24 47-27 47-33 47-36 47-37 47-37 47-34 47-30 47-24 47-21 47-20 47-18 47-17 47-17 47-16 47-16 47-16 47-15 47-16 47-14 47-14 47-11 47-12 47-11 47-10 47-10 47-10 47-9 47-8 47-8 47-7 47-7 19-2 19-3 18 1 19 5 19 9 19 16 19-17 18-15 19-10 19-5 19-3 19-2 56-5 56-6 57-6 56-5 57-6 56-5 56-6 57-7 56-6 57-5 56-5 56-5 38-3 19 0 19 1 18 16 19 28 19 33 19 31 19 20 18 1 19-3 19-10 19-8 19-8 18-8 19-8 19-8 19-8 19-7 18-8 19-7 19-8 19-8 19-9 18-10 19-10 19-9 19-5 19-1 18 1 19 4 19 5 19 6 19 12 18 17 19 21 19 27 19 3 19-23 18-15 19-9 19-1 19 1 37 17 38 7 38 2 37 17 38 14 37 23 38 9 38-2 37 11 38 20 37 29 38 13" stroke="#843C0C"/>
<path d="M543 4870l47-4 47-7 47-9 47-11 47-13 47-14 47-16 47-18 47-18 47-22 47-28 47-33 47-34 47-35 47-33 47-29 47-25 47-23 47-21 47-21 47-19 47-18 47-18 47-18 47-17 47-16 47-14 47-13 47-11 47-11 47-11 47-10 47-10 47-9 47-9 47-8 47-8 47-8 47-7 47-7 19-2 19-3 18 1 19 5 19 9 19 15 19-17 18-14 19-10 19-5 19-3 19-2 56-6 56-5 57-6 56-7 57-6 56-5 56-6 57-5 56-5 57-5 56-4 56-3 38-2 19 0 19 2 18 15 19 28 19 32 19 30 19 20 18 0 19-2 19-10 19-7 19-8 18-7 19-8 19-7 19-8 19-7 18-7 19-7 19-8 19-7 19-9 18-10 19-9 19-8 19-6 19-1 18 2 19 4 19 5 19 6 19 11 18 17 19 20 19 27 19 2 19-22 18-14 19-9 19-2 19 0 37-9 38 28 38 2 37 32 38 0 37 3 38 15 38 6 37 10 38 22 37 21 38 10" stroke="#4472C4"/>
<path d="M543 4876l47-3 47-5 47-8 47-10 47-12 47-13 47-14 47-16 47-17 47-20 47-27 47-32 47-33 47-34 47-32 47-28 47-25 47-23 47-21 47-21 47-19 47-18 47-18 47-18 47-17 47-16 47-14 47-13 47-12 47-11 47-11 47-10 47-10 47-10 47-9 47-9 47-8 47-8 47-8 47-6 19-2 19-2 18 1 19 4 19 8 19 12 19-13 18-11 19-8 19-4 19-2 19-2 56-3 56-4 57-4 56-4 57-4 56-4 56-4 57-3 56-3 57-3 56-2 56-1 38 0 19 0 19 2 18 13 19 23 19 27 19 24 19 17 18 1 19-2 19-8 19-7 19-7 18-6 19-7 19-7 19-7 19-7 18-6 19-7 19-7 19-7 19-7 18-9 19-9 19-7 19-5 19-2 18 1 19 2 19 4 19 5 19 8 18 14 19 17 19 22 19 2 19-19 18-12 19-7 19-1 19 10 37-5 38 12 38-1 37 11 38-9 37 29 38-1 38 15 37 23 38-8 37 16 38 19" stroke="#2E75B6"/>
<path d="M543 4846l47-7 47-10 47-12 47-13 47-16 47-17 47-20 47-21 47-20 47-24 47-30 47-33 47-35 47-35 47-32 47-27 47-23 47-21 47-19 47-17 47-17 47-16 47-15 47-15 47-13 47-13 47-13 47-12 47-11 47-10 47-10 47-9 47-9 47-8 47-8 47-7 47-7 47-7 47-6 47-5 19-2 19-2 18 1 19 4 19 9 19 14 19-15 18-13 19-9 19-4 19-3 19-1 56-5 56-4 57-8 56-8 57-8 56-7 56-8 57-7 56-7 57-7 56-5 56-6 38-3 19-1 19 1 18 14 19 26 19 30 19 27 19 19 18-1 19-2 19-10 19-8 19-8 18-7 19-8 19-7 19-8 19-7 18-8 19-7 19-8 19-7 19-9 18-10 19-9 19-9 19-5 19-2 18 1 19 4 19 5 19 6 19 11 18 16 19 20 19 26 19 3 19-22 18-13 19-8 19-1 19-5 37 12 38-8 38 29 37 0 38 20 37-8 38 28 38 12 37 2 38 31 37 6 38 24" stroke="#1F4E79"/>
<path d="M543 4734l47-24 47-28 47-32 47-34 47-37 47-40 47-46 47-50 47-48 47-48 47-51 47-53 47-53 47-51 47-46 47-38 47-30 47-22 47-19 47-16 47-17 47-18 47-20 47-20 47-20 47-21 47-20 47-21 47-19 47-20 47-19 47-19 47-18 47-18 47-17 47-16 47-14 47-14 47-13 47-11 19-4 19-4 18 2 19 7 19 16 19 25 19-28 18-24 19-17 19-8 19-6 19-3 56-10 56-9 57-8 56-7 57-7 56-7 56-6 57-6 56-6 57-5 56-5 56-5 38-3 19 0 19 3 18 27 19 46 19 55 19 50 19 34 18 2 19-3 19-15 19-12 19-12 18-11 19-12 19-11 19-11 19-11 18-11 19-11 19-11 19-11 19-13 18-16 19-15 19-12 19-8 19 0 18 4 19 6 19 9 19 10 19 18 18 27 19 33 19 44 19 4 19-37 18-23 19-14 19-3 19 14 37 16 38 5 38 11 37 26 38 15 37 29 38 24 38 29 37 17 38 36 37 38 38 15" stroke="#375623"/>
<path d="M543 4784l47-16 47-19 47-22 47-25 47-26 47-29 47-33 47-36 47-35 47-38 47-42 47-46 47-46 47-45 47-41 47-35 47-29 47-23 47-20 47-19 47-18 47-19 47-19 47-19 47-19 47-19 47-19 47-18 47-18 47-18 47-17 47-17 47-16 47-12 47-12 47-11 47-11 47-9 47-9 47-7 19-3 19-2 18 1 19 5 19 10 19 18 19-19 18-16 19-11 19-6 19-3 19-2 56-6 56-6 57-6 56-5 57-5 56-5 56-5 57-4 56-4 57-4 56-6 56-5 38-3 19 0 19 1 18 17 19 31 19 36 19 34 19 23 18 1 19-3 19-11 19-8 19-9 18-8 19-8 19-8 19-8 19-8 18-8 19-8 19-8 19-8 19-9 18-10 19-11 19-8 19-6 19-1 18 3 19 4 19 6 19 7 19 13 18 18 19 24 19 30 19 3 19-24 18-15 19-9 19-1 19-3 37 24 38 6 38 17 37 10 38 14 37 17 38 29 38 10 37 24 38 7 37 37 38 24" stroke="#4472C4"/>
<path d="M543 4705l47-28 47-33 47-37 47-39 47-43 47-46 47-53 47-57 47-56 47-54 47-56 47-59 47-58 47-55 47-50 47-41 47-31 47-23 47-19 47-17 47-17 47-20 47-20 47-21 47-21 47-22 47-21 47-22 47-21 47-22 47-20 47-21 47-20 47-19 47-18 47-17 47-16 47-15 47-13 47-12 19-4 19-4 18 2 19 7 19 16 19 26 19-28 18-25 19-17 19-7 19-5 19-2 56-6 56-5 57-5 56-5 57-4 56-4 56-3 57-3 56-3 57-3 56-2 56-2 38-1 19 1 19 4 18 27 19 48 19 55 19 51 19 35 18 2 19-2 19-14 19-11 19-11 18-10 19-10 19-10 19-10 19-10 18-10 19-10 19-11 19-12 19-13 18-15 19-16 19-12 19-8 19-2 18 3 19 6 19 8 19 9 19 17 18 26 19 33 19 42 19 4 19-37 18-24 19-14 19-3 19-6 37 23 38 19 38 22 37 9 38 29 37 24 38 23 38 19 37 50 38 7 37 42 38 34" stroke="#ED7D31"/>
<path d="M543 4871l47-4 47-7 47-8 47-11 47-13 47-15 47-16 47-17 47-18 47-22 47-28 47-33 47-34 47-35 47-33 47-29 47-24 47-23 47-22 47-20 47-20 47-18 47-18 47-17 47-16 47-15 47-13 47-12 47-11 47-11 47-10 47-9 47-9 47-9 47-8 47-8 47-7 47-7 47-6 47-7 19-2 19-2 18 0 19 3 19 6 19 11 19-12 18-11 19-8 19-4 19-3 19-2 56-5 56-5 57-7 56-7 57-7 56-7 56-7 57-7 56-6 57-5 56-5 56-5 38-2 19-1 19 1 18 11 19 21 19 25 19 23 19 15 18 0 19-2 19-8 19-7 19-6 18-6 19-7 19-6 19-6 19-6 18-6 19-6 19-6 19-7 19-7 18-8 19-7 19-7 19-4 19-1 18 1 19 3 19 4 19 6 19 9 18 14 19 17 19 22 19 3 19-17 18-10 19-5 19-1 19-14 37 23 38 16 38 8 37 10 38 0 37 14 38 12 38 14 37 11 38 15 37 19 38 9" stroke="#A5A5A5"/>
<path d="M543 4876l47-2 47-5 47-8 47-9 47-11 47-13 47-14 47-14 47-16 47-19 47-26 47-31 47-32 47-33 47-31 47-27 47-24 47-22 47-21 47-20 47-18 47-18 47-17 47-17 47-16 47-15 47-12 47-12 47-10 47-10 47-9 47-9 47-8 47-8 47-8 47-7 47-6 47-7 47-7 47-6 19-3 19-3 18 0 19 2 19 5 19 9 19-12 18-10 19-7 19-5 19-2 19-3 56-6 56-6 57-7 56-6 57-7 56-7 56-6 57-6 56-6 57-5 56-4 56-4 38-3 19 0 19 1 18 10 19 18 19 22 19 21 19 14 18 0 19-1 19-7 19-5 19-5 18-5 19-5 19-5 19-5 19-5 18-5 19-4 19-5 19-5 19-5 18-7 19-6 19-5 19-3 19-1 18 2 19 3 19 5 19 5 19 9 18 12 19 15 19 20 19 3 19-13 18-8 19-4 19 0 19 3 37 10 38 2 38 7 37 8 38 12 37 19 38 3 38 12 37 14 38 12 37 7 38 14" stroke="#FFC000"/>
<path d="M543 4687l47-32 47-37 47-40 47-43 47-45 47-49 47-57 47-60 47-59 47-56 47-58 47-60 47-59 47-56 47-49 47-41 47-31 47-21 47-17 47-14 47-15 47-17 47-18 47-19 47-19 47-19 47-20 47-20 47-20 47-20 47-19 47-19 47-19 47-17 47-17 47-16 47-14 47-13 47-12 47-9 19-4 19-3 18 2 19 10 19 17 19 28 19-29 18-25 19-17 19-9 19-5 19-2 56-8 56-8 57-7 56-6 57-7 56-6 56-7 57-6 56-5 57-6 56-5 56-5 38-4 19 0 19 3 18 29 19 50 19 58 19 54 19 36 18 2 19-3 19-16 19-13 19-12 18-12 19-12 19-12 19-11 19-12 18-12 19-11 19-11 19-12 19-14 18-16 19-15 19-13 19-8 19-1 18 4 19 6 19 9 19 11 19 19 18 28 19 36 19 46 19 4 19-40 18-25 19-14 19-3 19-8 37 29 38 24 38 19 37 30 38 15 37 21 38 25 38 42 37 26 38 14 37 54 38 27" stroke="#5B9BD5"/>
<path d="M543 4886l47 0 47-4 47-5 47-7 47-9 47-10 47-11 47-11 47-12 47-17 47-24 47-27 47-30 47-30 47-32 47-28 47-26 47-24 47-24 47-22 47-22 47-20 47-20 47-20 47-19 47-18 47-13 47-12 47-11 47-11 47-10 47-9 47-9 47-9 47-8 47-8 47-8 47-7 47-7 47-7 19-2 19-3 18 1 19 4 19 8 19 14 19-15 18-14 19-10 19-4 19-4 19-1 56-6 56-5 57-6 56-6 57-6 56-6 56-5 57-5 56-5 57-5 56-4 56-3 38-1 19 0 19 1 18 15 19 27 19 31 19 29 19 19 18 0 19-3 19-9 19-7 19-7 18-8 19-7 19-7 19-7 19-7 18-7 19-7 19-8 19-7 19-8 18-9 19-10 19-8 19-5 19 0 18 1 19 4 19 5 19 6 19 11 18 16 19 20 19 25 19 3 19-22 18-13 19-9 19-2 19 3 37 3 38 14 38 18 37 7 38 4 37 3 38 5 38 9 37 19 38 15 37 5 38 9" stroke="#70AD47"/>
<path d="M543 4783l47-16 47-18 47-20 47-23 47-25 47-25 47-29 47-30 47-29 47-30 47-34 47-36 47-36 47-35 47-31 47-25 47-19 47-15 47-12 47-11 47-10 47-10 47-10 47-10 47-10 47-8 47-14 47-12 47-12 47-15 47-14 47-13 47-13 47-13 47-13 47-11 47-12 47-10 47-10 47-10 19-3 19-4 18 0 19 4 19 8 19 14 19-18 18-15 19-11 19-6 19-4 19-3 56-9 56-9 57-9 56-9 57-8 56-9 56-8 57-5 56-6 57-4 56-5 56-3 38-3 19 0 19 2 18 16 19 29 19 34 19 31 19 21 18 0 19-2 19-10 19-8 19-7 18-8 19-7 19-8 19-7 19-7 18-8 19-7 19-7 19-7 19-9 18-10 19-9 19-8 19-5 19-1 18 2 19 4 19 6 19 6 19 12 18 18 19 21 19 28 19 4 19-23 18-14 19-8 19-1 19-8 37 19 38 6 38 17 37 12 38 9 37 12 38 24 38 8 37 13 38 33 37 4 38 26" stroke="#264478"/>
<path d="M543 4813l47-12 47-15 47-17 47-20 47-21 47-24 47-27 47-28 47-28 47-31 47-35 47-40 47-40 47-39 47-37 47-31 47-25 47-21 47-19 47-18 47-17 47-16 47-17 47-17 47-16 47-16 47-16 47-15 47-14 47-14 47-14 47-13 47-12 47-12 47-11 47-10 47-10 47-9 47-9 47-7 19-3 19-3 18 0 19 5 19 9 19 15 19-17 18-15 19-11 19-5 19-4 19-2 56-6 56-7 57-7 56-6 57-6 56-7 56-6 57-5 56-6 57-4 56-4 56-2 38-1 19 0 19 2 18 17 19 28 19 34 19 31 19 21 18 1 19-2 19-9 19-7 19-7 18-7 19-7 19-7 19-6 19-7 18-7 19-6 19-7 19-6 19-8 18-9 19-9 19-7 19-5 19 0 18 3 19 4 19 6 19 7 19 12 18 18 19 21 19 28 19 4 19-21 18-13 19-7 19-1 19 9 37 9 38 18 38 4 37 14 38 11 37 21 38 11 38 0 37 31 38 18 37 6 38 25" stroke="#9E480E"/>
<path d="M543 4714l47-26 47-30 47-33 47-35 47-38 47-42 47-47 47-50 47-49 47-48 47-51 47-52 47-53 47-49 47-44 47-36 47-28 47-19 47-16 47-14 47-14 47-15 47-16 47-16 47-17 47-16 47-20 47-19 47-19 47-19 47-19 47-18 47-17 47-16 47-15 47-14 47-13 47-12 47-11 47-9 19-4 19-3 18 1 19 6 19 13 19 20 19-22 18-20 19-13 19-7 19-5 19-2 56-8 56-8 57-7 56-7 57-6 56-6 56-6 57-6 56-5 57-5 56-3 56-2 38-1 19 0 19 3 18 22 19 38 19 45 19 41 19 29 18 2 19-2 19-12 19-9 19-9 18-8 19-8 19-9 19-8 19-8 18-8 19-8 19-8 19-8 19-9 18-12 19-10 19-9 19-6 19 1 18 4 19 6 19 7 19 10 19 15 18 23 19 28 19 36 19 5 19-28 18-17 19-9 19 0 19 6 37 2 38 33 38 13 37 22 38 13 37 27 38 12 38 24 37 30 38 22 37 17 38 29" stroke="#636363"/>
<path d="M543 4779l47-17 47-20 47-22 47-26 47-26 47-30 47-34 47-35 47-35 47-36 47-40 47-42 47-42 47-40 47-37 47-31 47-23 47-19 47-16 47-15 47-14 47-14 47-14 47-14 47-14 47-14 47-15 47-15 47-14 47-13 47-13 47-13 47-12 47-11 47-12 47-14 47-13 47-12 47-11 47-11 19-4 19-4 18 0 19 4 19 10 19 17 19-21 18-18 19-13 19-7 19-5 19-3 56-10 56-10 57-10 56-10 57-9 56-9 56-9 57-9 56-9 57-8 56-7 56-5 38-1 19 0 19 3 18 19 19 35 19 40 19 37 19 25 18 1 19-2 19-11 19-8 19-8 18-8 19-8 19-8 19-8 19-8 18-8 19-8 19-7 19-8 19-9 18-11 19-10 19-9 19-5 19 0 18 3 19 5 19 6 19 9 19 13 18 21 19 25 19 32 19 4 19-25 18-16 19-9 19-1 19 10 37 6 38 11 38 10 37 16 38 21 37 20 38 12 38 30 37 3 38 29 37-5 38 60" stroke="#C55A11"/>
<path d="M543 4859l47-7 47-9 47-13 47-16 47-18 47-20 47-23 47-25 47-26 47-30 47-35 47-40 47-41 47-41 47-39 47-35 47-30 47-27 47-24 47-24 47-22 47-22 47-22 47-22 47-22 47-21 47-16 47-16 47-14 47-14 47-14 47-13 47-13 47-13 47-9 47-10 47-8 47-8 47-7 47-7 19-2 19-2 18 1 19 5 19 11 19 18 19-19 18-15 19-11 19-5 19-4 19-1 56-6 56-5 57-5 56-5 57-5 56-5 56-5 57-4 56-4 57-3 56-3 56-4 38-2 19 0 19 2 18 18 19 31 19 36 19 34 19 22 18 1 19-3 19-10 19-8 19-8 18-8 19-8 19-8 19-8 19-8 18-8 19-7 19-8 19-8 19-9 18-10 19-11 19-9 19-5 19-1 18 2 19 5 19 5 19 7 19 13 18 18 19 23 19 30 19 3 19-25 18-15 19-9 19-2 19 8 37 10 38-1 38 19 37 15 38 6 37 22 38 9 38-6 37 23 38 28 37 22 38 13" stroke="#255E91"/>
<path d="M543 4716l47-27 47-32 47-35 47-38 47-41 47-44 47-52 47-54 47-55 47-52 47-55 47-58 47-57 47-55 47-49 47-41 47-32 47-23 47-19 47-17 47-18 47-19 47-20 47-19 47-20 47-19 47-20 47-19 47-19 47-19 47-18 47-18 47-17 47-17 47-15 47-15 47-13 47-12 47-11 47-9 19-4 19-3 18 3 19 8 19 17 19 26 19-27 18-24 19-16 19-8 19-4 19-3 56-7 56-7 57-9 56-8 57-7 56-8 56-7 57-6 56-7 57-6 56-6 56-5 38-4 19 0 19 3 18 26 19 47 19 55 19 50 19 35 18 1 19-4 19-15 19-12 19-12 18-11 19-12 19-11 19-11 19-12 18-11 19-11 19-11 19-11 19-13 18-16 19-15 19-12 19-8 19-1 18 3 19 7 19 10 19 11 19 19 18 28 19 34 19 45 19 5 19-36 18-23 19-13 19-1 19-1 37 31 38 16 38 9 37 21 38 20 37 28 38 41 38 26 37 30 38 16 37 32 38 43" stroke="#43682B"/>
<path d="M543 4723l47-26 47-29 47-33 47-36 47-38 47-42 47-48 47-52 47-50 47-49 47-52 47-54 47-54 47-51 47-46 47-39 47-29 47-21 47-18 47-16 47-15 47-18 47-17 47-19 47-18 47-18 47-18 47-18 47-17 47-18 47-16 47-16 47-16 47-14 47-14 47-13 47-12 47-11 47-12 47-10 19-4 19-4 18 0 19 5 19 9 19 17 19-20 18-18 19-12 19-7 19-5 19-3 56-9 56-9 57-9 56-8 57-8 56-8 56-7 57-7 56-7 57-6 56-6 56-6 38-4 19-1 19 2 18 18 19 33 19 39 19 36 19 25 18 2 19-3 19-10 19-9 19-8 18-8 19-8 19-8 19-8 19-7 18-8 19-7 19-8 19-7 19-9 18-11 19-10 19-8 19-5 19 0 18 3 19 5 19 7 19 9 19 14 18 20 19 26 19 32 19 5 19-24 18-15 19-8 19 0 19 9 37 11 38 17 38 8 37 21 38 30 37 27 38 27 38 21 37 22 38 32 37 18 38 45" stroke="#698ED0"/>
<path d="M543 4859l47-5 47-7 47-9 47-11 47-12 47-14 47-16 47-16 47-16 47-20 47-26 47-30 47-31 47-32 47-29 47-25 47-21 47-19 47-18 47-17 47-16 47-15 47-14 47-14 47-13 47-12 47-13 47-12 47-11 47-10 47-10 47-9 47-9 47-9 47-8 47-7 47-8 47-6 47-7 47-6 19-3 19-2 18 0 19 4 19 7 19 13 19-15 18-12 19-9 19-4 19-3 19-2 56-6 56-6 57-6 56-6 57-6 56-6 56-6 57-5 56-5 57-5 56-4 56-3 38-2 19 0 19 1 18 13 19 24 19 28 19 26 19 17 18 0 19-2 19-9 19-7 19-6 18-7 19-7 19-6 19-6 19-7 18-6 19-6 19-6 19-6 19-7 18-8 19-8 19-7 19-4 19-1 18 2 19 3 19 5 19 6 19 10 18 15 19 19 19 23 19 3 19-18 18-12 19-6 19-1 19 16 37-3 38 6 38 6 37 9 38 6 37 21 38 2 38 11 37 3 38 29 37-4 38 20" stroke="#F1975A"/>
<path d="M543 4809l47-12 47-16 47-18 47-21 47-23 47-25 47-29 47-31 47-30 47-33 47-37 47-40 47-42 47-41 47-37 47-32 47-26 47-22 47-19 47-18 47-18 47-17 47-18 47-17 47-17 47-16 47-16 47-15 47-14 47-13 47-13 47-13 47-12 47-11 47-11 47-11 47-9 47-10 47-9 47-8 19-3 19-3 18 1 19 6 19 12 19 20 19-21 18-19 19-12 19-7 19-4 19-2 56-7 56-7 57-7 56-7 57-7 56-7 56-6 57-6 56-6 57-5 56-5 56-4 38-2 19-1 19 2 18 21 19 37 19 42 19 39 19 26 18 1 19-3 19-11 19-9 19-9 18-9 19-9 19-9 19-9 19-8 18-9 19-9 19-8 19-9 19-10 18-12 19-12 19-10 19-6 19 0 18 2 19 5 19 7 19 8 19 14 18 21 19 26 19 34 19 3 19-28 18-18 19-11 19-2 19-4 37 19 38 18 38 9 37 6 38 13 37 21 38 21 38 22 37-14 38 55 37 13 38-6" stroke="#B7B7B7"/>
<path d="M543 4832l47-9 47-12 47-15 47-17 47-18 47-21 47-24 47-25 47-25 47-28 47-33 47-36 47-39 47-37 47-35 47-30 47-25 47-21 47-20 47-18 47-17 47-17 47-17 47-17 47-16 47-16 47-15 47-14 47-13 47-12 47-13 47-11 47-11 47-11 47-10 47-10 47-9 47-9 47-8 47-6 19-3 19-2 18 2 19 5 19 11 19 17 19-18 18-16 19-11 19-5 19-4 19-1 56-6 56-5 57-6 56-5 57-5 56-6 56-5 57-4 56-4 57-4 56-4 56-2 38-2 19 1 19 2 18 18 19 31 19 37 19 34 19 23 18 0 19-3 19-11 19-8 19-9 18-8 19-9 19-8 19-8 19-9 18-8 19-8 19-8 19-9 19-10 18-11 19-11 19-9 19-6 19-1 18 2 19 3 19 6 19 6 19 13 18 18 19 23 19 30 19 2 19-26 18-16 19-10 19-3 19 14 37-16 38 10 38 28 37 18 38-8 37 7 38 30 38 20 37-1 38 10 37 31 38 13" stroke="#FFCD33"/>
<path d="M543 4755l47-21 47-24 47-27 47-30 47-32 47-35 47-40 47-43 47-42 47-41 47-46 47-48 47-48 47-46 47-41 47-35 47-27 47-21 47-17 47-16 47-15 47-16 47-17 47-18 47-18 47-18 47-19 47-18 47-18 47-17 47-17 47-16 47-16 47-15 47-15 47-13 47-13 47-12 47-11 47-10 19-4 19-3 18 1 19 7 19 14 19 22 19-24 18-21 19-15 19-8 19-5 19-3 56-8 56-8 57-8 56-6 57-6 56-6 56-6 57-5 56-5 57-4 56-4 56-4 38-2 19 0 19 2 18 24 19 41 19 48 19 45 19 30 18 1 19-3 19-13 19-10 19-11 18-10 19-9 19-10 19-10 19-10 18-9 19-10 19-9 19-10 19-12 18-13 19-13 19-11 19-6 19-1 18 3 19 6 19 6 19 9 19 15 18 23 19 29 19 37 19 3 19-33 18-21 19-13 19-3 19 1 37 3 38 21 38 20 37 7 38 28 37-4 38 47 38 10 37 20 38 32 37 23 38 13" stroke="#7CAFDD"/>
<path d="M543 4714l47-28 47-32 47-36 47-39 47-42 47-46 47-53 47-57 47-56 47-54 47-58 47-59 47-60 47-56 47-51 47-43 47-34 47-24 47-20 47-16 47-17 47-18 47-19 47-20 47-20 47-20 47-19 47-19 47-19 47-19 47-18 47-18 47-17 47-16 47-15 47-15 47-13 47-12 47-10 47-9 19-3 19-3 18 2 19 7 19 13 19 22 19-23 18-21 19-15 19-8 19-5 19-4 56-10 56-9 57-10 56-8 57-9 56-8 56-8 57-7 56-8 57-6 56-7 56-6 38-5 19 0 19 2 18 22 19 40 19 47 19 43 19 30 18 1 19-3 19-14 19-10 19-11 18-10 19-10 19-10 19-10 19-10 18-9 19-9 19-9 19-9 19-10 18-13 19-12 19-10 19-6 19 0 18 4 19 6 19 8 19 10 19 16 18 24 19 30 19 39 19 5 19-31 18-18 19-11 19 0 19 1 37 10 38 29 38 18 37 32 38 10 37 29 38 44 38 5 37 24 38 45 37 25 38 30" stroke="#8CC168"/>
<path d="M543 4891l47-4 47-6 47-8 47-10 47-11 47-13 47-13 47-14 47-15 47-18 47-22 47-25 47-27 47-27 47-26 47-23 47-22 47-20 47-20 47-19 47-19 47-19 47-20 47-20 47-19 47-18 47-17 47-14 47-11 47-9 47-9 47-9 47-7 47-7 47-7 47-7 47-6 47-6 47-5 47-6 19-2 19-3 18 1 19 5 19 9 19 16 19-17 18-15 19-10 19-6 19-3 19-2 56-7 56-6 57-8 56-7 57-8 56-7 56-8 57-7 56-6 57-6 56-4 56-4 38-2 19 0 19 2 18 18 19 30 19 34 19 32 19 21 18 1 19-3 19-9 19-8 19-8 18-8 19-8 19-7 19-8 19-8 18-7 19-8 19-8 19-8 19-9 18-11 19-10 19-9 19-6 19-1 18 1 19 4 19 5 19 7 19 12 18 18 19 22 19 29 19 3 19-24 18-16 19-9 19-2 19 1 37 9 38 9 38 9 37 9 38 10 37 11 38 10 38 11 37 11 38 11 37 12 38 12" stroke="#1F3864"/>
<path d="M543 4620l47-28 47-36 47-41 47-45 47-52 47-66 47-74 47-75 47-68 47-60 47-60 47-58 47-54 47-47 47-39 47-28 47-20 47-16 47-16 47-17 47-22 47-26 47-29 47-30 47-32 47-32 47-32 47-31 47-30 47-27 47-30 47-32 47-33 47-32 47-29 47-26 47-19 47-13 47-4 47 1 19 1 19 1 18 29 19 57 19 98 19 69 19-62 18-50 19-28 19-23 19-18 19-17 56-49 56-44 57-36 56-28 57-18 56-15 56-11 57-4 56 8 57 15 56 6 56-3 38-2 19-1 19 5 18 64 19 109 19 137 19 157 19 37 18-9 19-13 19-15 19-18 19-21 18-21 19-21 19-19 19-17 19-17 18-17 19-15 19-15 19-14 19-15 18-14 19-14 19-12 19-10 19-6 18-5 19-2 19 12 19 29 19 36 18 52 19 69 19 97 19 24 19-73 18-47 19-29 19-12 19 2 37 11 38 20 38 26 37 29 38 29 37 27 38 26 38 27 37 29 38 29 37 31 38 31" stroke="#FFC000"/>
<path d="M543 4704l47-52 47-59 47-65 47-69 47-76 47-88 47-95 47-94 47-86 47-80 47-75 47-75 47-77 47-75 47-60 47-47 47-29 47-14 47-2 47-1 47-3 47-10 47-14 47-18 47-27 47-28 47-29 47-31 47-31 47-31 47-28 47-26 47-22 47-23 47-23 47-21 47-19 47-13 47-8 47 0 19 5 19 8 18 12 19 48 19 78 19 94 19-34 18-64 19-58 19-30 19-21 19-19 56-40 56-26 57-21 56-19 57-17 56-13 56-7 57-1 56 10 57 14 56 12 56 7 38 8 19 6 19 23 18 53 19 93 19 131 19 103 19 10 18-9 19-11 19-13 19-14 19-16 18-16 19-16 19-15 19-15 19-16 18-15 19-16 19-15 19-16 19-16 18-17 19-17 19-15 19-12 19-8 18-7 19-3 19 11 19 26 19 36 18 63 19 89 19 132 19 49 19-77 18-74 19-62 19-10 19 5 37 23 38 26 38 26 37 29 38 31 37 32 38 30 38 31 37 33 38 38 37 43 38 47" stroke="#7CAFDD"/>
<path d="M543 4845l47-11 47-15 47-19 47-23 47-25 47-31 47-41 47-45 47-43 47-41 47-42 47-41 47-40 47-41 47-39 47-33 47-27 47-24 47-22 47-22 47-21 47-20 47-20 47-19 47-17 47-15 47-16 47-15 47-18 47-18 47-19 47-17 47-14 47-11 47-11 47-9 47-7 47-7 47-7 47-6 19-1 19-1 18 4 19 8 19 20 19 11 19-18 18-11 19-7 19-6 19-3 19-3 56-5 56-7 57-12 56-14 57-11 56-7 56-6 57-5 56-3 57-1 56-1 56 0 38 2 19 6 19 9 18 24 19 38 19 30 19 32 19 22 18 2 19-8 19-9 19-9 19-9 18-10 19-10 19-10 19-10 19-9 18-9 19-10 19-10 19-10 19-10 18-9 19-8 19-5 19-4 19 0 18 2 19 6 19 6 19 8 19 12 18 11 19 16 19 14 19 1 19-8 18-4 19-4 19-2 19-1 37 4 38 9 38 10 37 13 38 14 37 16 38 16 38 16 37 16 38 15 37 16 38 16" class="avg"/>
</g></g>
<path d="M54.3,16.5V218.8" class="ax"/><path d="M53.7,218.8H458.5" class="ax"/>
<text x="46" y="223.2" text-anchor="end" class="tk" textLength="14.5" lengthAdjust="spacingAndGlyphs">0.0</text>
<text x="46" y="194.6" text-anchor="end" class="tk" textLength="14.5" lengthAdjust="spacingAndGlyphs">0.1</text>
<text x="46" y="166.0" text-anchor="end" class="tk" textLength="14.5" lengthAdjust="spacingAndGlyphs">0.2</text>
<text x="46" y="137.3" text-anchor="end" class="tk" textLength="14.5" lengthAdjust="spacingAndGlyphs">0.3</text>
<text x="46" y="108.7" text-anchor="end" class="tk" textLength="14.5" lengthAdjust="spacingAndGlyphs">0.4</text>
<text x="46" y="80.1" text-anchor="end" class="tk" textLength="14.5" lengthAdjust="spacingAndGlyphs">0.5</text>
<text x="46" y="51.5" text-anchor="end" class="tk" textLength="14.5" lengthAdjust="spacingAndGlyphs">0.6</text>
<text x="46" y="22.9" text-anchor="end" class="tk" textLength="14.5" lengthAdjust="spacingAndGlyphs">0.7</text>
<path d="M50.9,218.2H54.3M50.9,189.4H54.3M50.9,160.6H54.3M50.9,131.7H54.3M50.9,102.9H54.3M50.9,74.1H54.3M50.9,45.3H54.3M50.9,16.5H54.3M63.7,218.8v3.0M73.1,218.8v3.0M82.5,218.8v3.0M91.9,218.8v3.0M101.3,218.8v3.0M110.7,218.8v3.0M120.1,218.8v3.0M129.5,218.8v3.0M138.9,218.8v3.0M148.3,218.8v3.0M157.7,218.8v3.0M167.1,218.8v3.0M176.5,218.8v3.0M185.9,218.8v3.0M195.3,218.8v3.0M204.7,218.8v3.0M214.1,218.8v3.0M223.5,218.8v3.0M232.9,218.8v3.0M242.3,218.8v3.0M251.7,218.8v3.0M261.1,218.8v3.0M270.5,218.8v3.0M279.9,218.8v3.0M289.3,218.8v3.0M298.7,218.8v3.0M308.1,218.8v3.0M317.5,218.8v3.0M326.9,218.8v3.0M336.3,218.8v3.0M345.7,218.8v3.0M355.1,218.8v3.0M364.5,218.8v3.0M373.9,218.8v3.0M383.3,218.8v3.0M392.7,218.8v3.0M402.1,218.8v3.0M411.5,218.8v3.0M420.9,218.8v3.0M430.3,218.8v3.0M439.7,218.8v3.0M449.1,218.8v3.0M458.5,218.8v3.0" class="ax"/>
<text x="64" y="236.8" text-anchor="middle" class="tk" textLength="18.5" lengthAdjust="spacingAndGlyphs">400</text>
<text x="139.5" y="236.8" text-anchor="middle" class="tk" textLength="18.5" lengthAdjust="spacingAndGlyphs">800</text>
<text x="211.5" y="236.8" text-anchor="middle" class="tk" textLength="24" lengthAdjust="spacingAndGlyphs">1200</text>
<text x="289.5" y="236.8" text-anchor="middle" class="tk" textLength="24" lengthAdjust="spacingAndGlyphs">1600</text>
<text x="364.8" y="236.8" text-anchor="middle" class="tk" textLength="24" lengthAdjust="spacingAndGlyphs">2000</text>
<text x="440.3" y="236.8" text-anchor="middle" class="tk" textLength="24" lengthAdjust="spacingAndGlyphs">2400</text>
<text x="200.5" y="257.0" class="lb" textLength="103" lengthAdjust="spacingAndGlyphs">Wavelength (nm)</text>
<text transform="translate(23.0,158.0) rotate(-90)" class="lb" style="font-size:14.5px" textLength="86" lengthAdjust="spacingAndGlyphs">Reflectance (-)</text>
<text x="70.5" y="33.6" class="ti" textLength="37.5" lengthAdjust="spacingAndGlyphs">Bonis</text>
<path d="M339.5,188.7H400" stroke="#FF0000" stroke-width="2.2" stroke-dasharray="13.7,9.3" fill="none"/>
<text x="407.3" y="193.5" class="lb" textLength="48" lengthAdjust="spacingAndGlyphs">Average</text>
<path d="M54.3,292.6V494.9" class="ax"/><path d="M53.7,494.9H458.5" class="ax"/>
<text x="46" y="499.3" text-anchor="end" class="tk" textLength="14.5" lengthAdjust="spacingAndGlyphs">0.0</text>
<text x="46" y="470.7" text-anchor="end" class="tk" textLength="14.5" lengthAdjust="spacingAndGlyphs">0.1</text>
<text x="46" y="442.1" text-anchor="end" class="tk" textLength="14.5" lengthAdjust="spacingAndGlyphs">0.2</text>
<text x="46" y="413.4" text-anchor="end" class="tk" textLength="14.5" lengthAdjust="spacingAndGlyphs">0.3</text>
<text x="46" y="384.8" text-anchor="end" class="tk" textLength="14.5" lengthAdjust="spacingAndGlyphs">0.4</text>
<text x="46" y="356.2" text-anchor="end" class="tk" textLength="14.5" lengthAdjust="spacingAndGlyphs">0.5</text>
<text x="46" y="327.6" text-anchor="end" class="tk" textLength="14.5" lengthAdjust="spacingAndGlyphs">0.6</text>
<text x="46" y="299.0" text-anchor="end" class="tk" textLength="14.5" lengthAdjust="spacingAndGlyphs">0.7</text>
<path d="M50.9,494.3H54.3M50.9,465.5H54.3M50.9,436.7H54.3M50.9,407.8H54.3M50.9,379.0H54.3M50.9,350.2H54.3M50.9,321.4H54.3M50.9,292.6H54.3M63.7,494.9v3.0M73.1,494.9v3.0M82.5,494.9v3.0M91.9,494.9v3.0M101.3,494.9v3.0M110.7,494.9v3.0M120.1,494.9v3.0M129.5,494.9v3.0M138.9,494.9v3.0M148.3,494.9v3.0M157.7,494.9v3.0M167.1,494.9v3.0M176.5,494.9v3.0M185.9,494.9v3.0M195.3,494.9v3.0M204.7,494.9v3.0M214.1,494.9v3.0M223.5,494.9v3.0M232.9,494.9v3.0M242.3,494.9v3.0M251.7,494.9v3.0M261.1,494.9v3.0M270.5,494.9v3.0M279.9,494.9v3.0M289.3,494.9v3.0M298.7,494.9v3.0M308.1,494.9v3.0M317.5,494.9v3.0M326.9,494.9v3.0M336.3,494.9v3.0M345.7,494.9v3.0M355.1,494.9v3.0M364.5,494.9v3.0M373.9,494.9v3.0M383.3,494.9v3.0M392.7,494.9v3.0M402.1,494.9v3.0M411.5,494.9v3.0M420.9,494.9v3.0M430.3,494.9v3.0M439.7,494.9v3.0M449.1,494.9v3.0M458.5,494.9v3.0" class="ax"/>
<text x="64" y="512.9" text-anchor="middle" class="tk" textLength="18.5" lengthAdjust="spacingAndGlyphs">400</text>
<text x="139.5" y="512.9" text-anchor="middle" class="tk" textLength="18.5" lengthAdjust="spacingAndGlyphs">800</text>
<text x="211.5" y="512.9" text-anchor="middle" class="tk" textLength="24" lengthAdjust="spacingAndGlyphs">1200</text>
<text x="289.5" y="512.9" text-anchor="middle" class="tk" textLength="24" lengthAdjust="spacingAndGlyphs">1600</text>
<text x="364.8" y="512.9" text-anchor="middle" class="tk" textLength="24" lengthAdjust="spacingAndGlyphs">2000</text>
<text x="440.3" y="512.9" text-anchor="middle" class="tk" textLength="24" lengthAdjust="spacingAndGlyphs">2400</text>
<text x="200.5" y="533.1" class="lb" textLength="103" lengthAdjust="spacingAndGlyphs">Wavelength (nm)</text>
<text transform="translate(23.0,434.1) rotate(-90)" class="lb" style="font-size:14.5px" textLength="86" lengthAdjust="spacingAndGlyphs">Reflectance (-)</text>
<text x="70.5" y="309" class="ti" textLength="69" lengthAdjust="spacingAndGlyphs">Mongiana</text>
<path d="M339.5,464.8H400" stroke="#FF0000" stroke-width="2.2" stroke-dasharray="13.7,9.3" fill="none"/>
<text x="407.3" y="469.6" class="lb" textLength="48" lengthAdjust="spacingAndGlyphs">Average</text>
</svg>
</body></html>
